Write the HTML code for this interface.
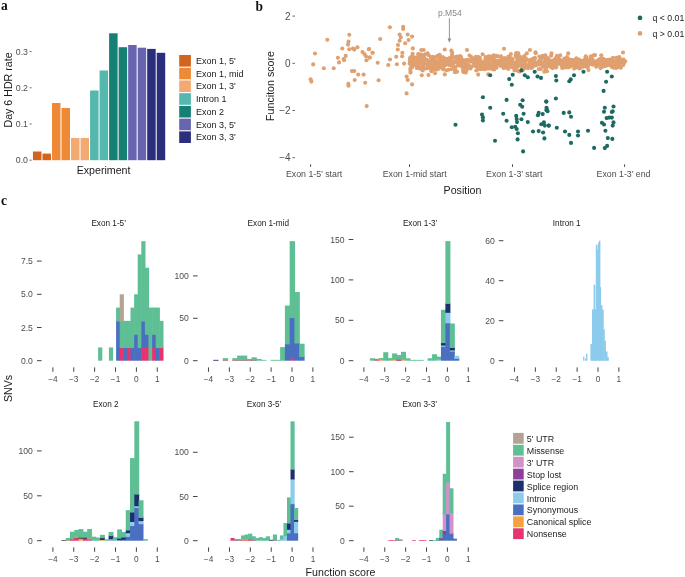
<!DOCTYPE html>
<html><head><meta charset="utf-8"><style>
html,body{margin:0;padding:0;background:#fff;}
svg{display:block;font-family:"Liberation Sans", sans-serif;filter:blur(0.3px);}
</style></head><body>
<svg width="685" height="577" viewBox="0 0 685 577">
<rect width="685" height="577" fill="#ffffff"/>
<text transform="translate(1.0,9.6) scale(0.9,1)" font-size="15" font-weight="bold" font-family="Liberation Serif, serif" fill="#111">a</text>
<text transform="translate(255.4,10.6) scale(0.9,1)" font-size="15" font-weight="bold" font-family="Liberation Serif, serif" fill="#111">b</text>
<text transform="translate(0.9,205.4) scale(0.9,1)" font-size="15" font-weight="bold" font-family="Liberation Serif, serif" fill="#111">c</text>
<rect x="32.95" y="151.50" width="8.50" height="8.70" fill="#d3631d"/>
<rect x="42.47" y="153.60" width="8.50" height="6.60" fill="#d3631d"/>
<rect x="51.99" y="103.00" width="8.50" height="57.20" fill="#ee8a36"/>
<rect x="61.51" y="108.00" width="8.50" height="52.20" fill="#ee8a36"/>
<rect x="71.03" y="138.00" width="8.50" height="22.20" fill="#f3aa72"/>
<rect x="80.55" y="138.00" width="8.50" height="22.20" fill="#f3aa72"/>
<rect x="90.07" y="90.50" width="8.50" height="69.70" fill="#55b8ae"/>
<rect x="99.59" y="70.50" width="8.50" height="89.70" fill="#55b8ae"/>
<rect x="109.11" y="33.30" width="8.50" height="126.90" fill="#148174"/>
<rect x="118.63" y="47.20" width="8.50" height="113.00" fill="#148174"/>
<rect x="128.15" y="45.00" width="8.50" height="115.20" fill="#6865b0"/>
<rect x="137.67" y="47.70" width="8.50" height="112.50" fill="#6865b0"/>
<rect x="147.19" y="48.90" width="8.50" height="111.30" fill="#2a2e7c"/>
<rect x="156.71" y="52.80" width="8.50" height="107.40" fill="#2a2e7c"/>
<text x="28.00" y="163.30" font-size="8.8" fill="#4d4d4d" text-anchor="end" >0.0</text>
<line x1="29.60" y1="160.20" x2="31.60" y2="160.20" stroke="#444444" stroke-width="0.8"/>
<text x="28.00" y="127.10" font-size="8.8" fill="#4d4d4d" text-anchor="end" >0.1</text>
<line x1="29.60" y1="124.00" x2="31.60" y2="124.00" stroke="#444444" stroke-width="0.8"/>
<text x="28.00" y="90.90" font-size="8.8" fill="#4d4d4d" text-anchor="end" >0.2</text>
<line x1="29.60" y1="87.80" x2="31.60" y2="87.80" stroke="#444444" stroke-width="0.8"/>
<text x="28.00" y="54.70" font-size="8.8" fill="#4d4d4d" text-anchor="end" >0.3</text>
<line x1="29.60" y1="51.60" x2="31.60" y2="51.60" stroke="#444444" stroke-width="0.8"/>
<text transform="translate(12.2,90) rotate(-90)" font-size="10.65" fill="#1a1a1a" text-anchor="middle">Day 6 HDR rate</text>
<text x="103.60" y="173.60" font-size="10.65" fill="#1a1a1a" text-anchor="middle" >Experiment</text>
<rect x="179.20" y="55.00" width="11.70" height="11.60" fill="#d3631d"/>
<text x="196.00" y="63.95" font-size="9" fill="#1a1a1a" text-anchor="start" >Exon 1, 5'</text>
<rect x="179.20" y="67.73" width="11.70" height="11.60" fill="#ee8a36"/>
<text x="196.00" y="76.68" font-size="9" fill="#1a1a1a" text-anchor="start" >Exon 1, mid</text>
<rect x="179.20" y="80.46" width="11.70" height="11.60" fill="#f3aa72"/>
<text x="196.00" y="89.41" font-size="9" fill="#1a1a1a" text-anchor="start" >Exon 1, 3'</text>
<rect x="179.20" y="93.19" width="11.70" height="11.60" fill="#55b8ae"/>
<text x="196.00" y="102.14" font-size="9" fill="#1a1a1a" text-anchor="start" >Intron 1</text>
<rect x="179.20" y="105.92" width="11.70" height="11.60" fill="#148174"/>
<text x="196.00" y="114.87" font-size="9" fill="#1a1a1a" text-anchor="start" >Exon 2</text>
<rect x="179.20" y="118.65" width="11.70" height="11.60" fill="#6865b0"/>
<text x="196.00" y="127.60" font-size="9" fill="#1a1a1a" text-anchor="start" >Exon 3, 5'</text>
<rect x="179.20" y="131.38" width="11.70" height="11.60" fill="#2a2e7c"/>
<text x="196.00" y="140.33" font-size="9" fill="#1a1a1a" text-anchor="start" >Exon 3, 3'</text>
<text x="290.60" y="19.60" font-size="10.0" fill="#4d4d4d" text-anchor="end" >2</text>
<line x1="292.40" y1="16.10" x2="295.00" y2="16.10" stroke="#444444" stroke-width="0.8"/>
<text x="290.60" y="66.80" font-size="10.0" fill="#4d4d4d" text-anchor="end" >0</text>
<line x1="292.40" y1="63.30" x2="295.00" y2="63.30" stroke="#444444" stroke-width="0.8"/>
<text x="290.60" y="114.00" font-size="10.0" fill="#4d4d4d" text-anchor="end" >−2</text>
<line x1="292.40" y1="110.50" x2="295.00" y2="110.50" stroke="#444444" stroke-width="0.8"/>
<text x="290.60" y="161.20" font-size="10.0" fill="#4d4d4d" text-anchor="end" >−4</text>
<line x1="292.40" y1="157.70" x2="295.00" y2="157.70" stroke="#444444" stroke-width="0.8"/>
<line x1="310.60" y1="164.20" x2="310.60" y2="167.00" stroke="#444444" stroke-width="0.9"/>
<text x="314.10" y="176.60" font-size="8.8" fill="#4d4d4d" text-anchor="middle" >Exon 1-5’ start</text>
<line x1="409.50" y1="164.20" x2="409.50" y2="167.00" stroke="#444444" stroke-width="0.9"/>
<text x="414.70" y="176.60" font-size="8.8" fill="#4d4d4d" text-anchor="middle" >Exon 1-mid start</text>
<line x1="512.50" y1="164.20" x2="512.50" y2="167.00" stroke="#444444" stroke-width="0.9"/>
<text x="514.30" y="176.60" font-size="8.8" fill="#4d4d4d" text-anchor="middle" >Exon 1-3’ start</text>
<line x1="624.60" y1="164.20" x2="624.60" y2="167.00" stroke="#444444" stroke-width="0.9"/>
<text x="623.50" y="176.60" font-size="8.8" fill="#4d4d4d" text-anchor="middle" >Exon 1-3’ end</text>
<text x="462.50" y="193.50" font-size="10.65" fill="#1a1a1a" text-anchor="middle" >Position</text>
<text transform="translate(274.2,86) rotate(-90)" font-size="10.65" fill="#1a1a1a" text-anchor="middle">Funciton score</text>
<circle cx="349.3" cy="34.8" r="2.05" fill="#e0a06f"/>
<circle cx="327.3" cy="39.8" r="2.05" fill="#e0a06f"/>
<circle cx="348.5" cy="41.5" r="2.05" fill="#e0a06f"/>
<circle cx="348.0" cy="44.6" r="2.05" fill="#e0a06f"/>
<circle cx="315.0" cy="53.5" r="2.05" fill="#e0a06f"/>
<circle cx="342.3" cy="48.5" r="2.05" fill="#e0a06f"/>
<circle cx="349.3" cy="49.3" r="2.05" fill="#e0a06f"/>
<circle cx="353.0" cy="48.5" r="2.05" fill="#e0a06f"/>
<circle cx="354.3" cy="49.6" r="2.05" fill="#e0a06f"/>
<circle cx="357.4" cy="47.3" r="2.05" fill="#e0a06f"/>
<circle cx="368.8" cy="49.2" r="2.05" fill="#e0a06f"/>
<circle cx="372.5" cy="52.7" r="2.05" fill="#e0a06f"/>
<circle cx="362.5" cy="52.0" r="2.05" fill="#e0a06f"/>
<circle cx="364.4" cy="54.0" r="2.05" fill="#e0a06f"/>
<circle cx="366.0" cy="56.2" r="2.05" fill="#e0a06f"/>
<circle cx="369.5" cy="57.7" r="2.05" fill="#e0a06f"/>
<circle cx="366.4" cy="60.2" r="2.05" fill="#e0a06f"/>
<circle cx="337.9" cy="57.7" r="2.05" fill="#e0a06f"/>
<circle cx="345.7" cy="55.9" r="2.05" fill="#e0a06f"/>
<circle cx="343.7" cy="59.0" r="2.05" fill="#e0a06f"/>
<circle cx="344.1" cy="60.2" r="2.05" fill="#e0a06f"/>
<circle cx="339.0" cy="62.4" r="2.05" fill="#e0a06f"/>
<circle cx="313.2" cy="64.4" r="2.05" fill="#e0a06f"/>
<circle cx="323.8" cy="68.3" r="2.05" fill="#e0a06f"/>
<circle cx="333.7" cy="68.3" r="2.05" fill="#e0a06f"/>
<circle cx="351.9" cy="71.1" r="2.05" fill="#e0a06f"/>
<circle cx="354.3" cy="71.1" r="2.05" fill="#e0a06f"/>
<circle cx="358.2" cy="74.6" r="2.05" fill="#e0a06f"/>
<circle cx="363.6" cy="74.6" r="2.05" fill="#e0a06f"/>
<circle cx="354.7" cy="80.0" r="2.05" fill="#e0a06f"/>
<circle cx="365.2" cy="82.8" r="2.05" fill="#e0a06f"/>
<circle cx="348.3" cy="83.9" r="2.05" fill="#e0a06f"/>
<circle cx="348.5" cy="85.8" r="2.05" fill="#e0a06f"/>
<circle cx="310.6" cy="79.3" r="2.05" fill="#e0a06f"/>
<circle cx="311.4" cy="81.6" r="2.05" fill="#e0a06f"/>
<circle cx="366.7" cy="106.1" r="2.05" fill="#e0a06f"/>
<circle cx="389.9" cy="27.2" r="2.05" fill="#e0a06f"/>
<circle cx="403.2" cy="26.7" r="2.05" fill="#e0a06f"/>
<circle cx="403.2" cy="29.0" r="2.05" fill="#e0a06f"/>
<circle cx="380.2" cy="39.0" r="2.05" fill="#e0a06f"/>
<circle cx="399.6" cy="34.5" r="2.05" fill="#e0a06f"/>
<circle cx="400.8" cy="37.3" r="2.05" fill="#e0a06f"/>
<circle cx="399.6" cy="40.8" r="2.05" fill="#e0a06f"/>
<circle cx="407.7" cy="34.5" r="2.05" fill="#e0a06f"/>
<circle cx="412.1" cy="36.6" r="2.05" fill="#e0a06f"/>
<circle cx="408.6" cy="40.1" r="2.05" fill="#e0a06f"/>
<circle cx="405.2" cy="43.3" r="2.05" fill="#e0a06f"/>
<circle cx="398.0" cy="45.0" r="2.05" fill="#e0a06f"/>
<circle cx="397.8" cy="49.5" r="2.05" fill="#e0a06f"/>
<circle cx="402.4" cy="52.8" r="2.05" fill="#e0a06f"/>
<circle cx="402.1" cy="56.3" r="2.05" fill="#e0a06f"/>
<circle cx="396.2" cy="56.7" r="2.05" fill="#e0a06f"/>
<circle cx="369.2" cy="49.1" r="2.05" fill="#e0a06f"/>
<circle cx="372.6" cy="52.8" r="2.05" fill="#e0a06f"/>
<circle cx="369.8" cy="57.4" r="2.05" fill="#e0a06f"/>
<circle cx="390.0" cy="59.5" r="2.05" fill="#e0a06f"/>
<circle cx="377.7" cy="62.7" r="2.05" fill="#e0a06f"/>
<circle cx="388.3" cy="65.0" r="2.05" fill="#e0a06f"/>
<circle cx="396.9" cy="64.3" r="2.05" fill="#e0a06f"/>
<circle cx="404.1" cy="63.6" r="2.05" fill="#e0a06f"/>
<circle cx="412.8" cy="48.4" r="2.05" fill="#e0a06f"/>
<circle cx="378.6" cy="80.3" r="2.05" fill="#e0a06f"/>
<circle cx="406.6" cy="76.5" r="2.05" fill="#e0a06f"/>
<circle cx="407.7" cy="79.9" r="2.05" fill="#e0a06f"/>
<circle cx="412.1" cy="84.4" r="2.05" fill="#e0a06f"/>
<circle cx="406.6" cy="93.4" r="2.05" fill="#e0a06f"/>
<circle cx="551.5" cy="53.4" r="2.05" fill="#e0a06f"/>
<circle cx="568.2" cy="53.4" r="2.05" fill="#e0a06f"/>
<circle cx="595.0" cy="55.1" r="2.05" fill="#e0a06f"/>
<circle cx="623.0" cy="52.5" r="2.05" fill="#e0a06f"/>
<circle cx="444.8" cy="49.5" r="2.05" fill="#e0a06f"/>
<circle cx="504.0" cy="48.7" r="2.05" fill="#e0a06f"/>
<circle cx="410.5" cy="72.6" r="2.05" fill="#e0a06f"/>
<circle cx="435.0" cy="73.2" r="2.05" fill="#e0a06f"/>
<circle cx="444.8" cy="74.4" r="2.05" fill="#e0a06f"/>
<circle cx="479.4" cy="61.8" r="2.05" fill="#e0a06f"/>
<circle cx="525.3" cy="61.7" r="2.05" fill="#e0a06f"/>
<circle cx="422.0" cy="67.1" r="2.05" fill="#e0a06f"/>
<circle cx="424.6" cy="63.6" r="2.05" fill="#e0a06f"/>
<circle cx="501.2" cy="64.6" r="2.05" fill="#e0a06f"/>
<circle cx="545.0" cy="65.5" r="2.05" fill="#e0a06f"/>
<circle cx="534.2" cy="63.9" r="2.05" fill="#e0a06f"/>
<circle cx="594.9" cy="62.9" r="2.05" fill="#e0a06f"/>
<circle cx="440.7" cy="59.8" r="2.05" fill="#e0a06f"/>
<circle cx="448.5" cy="69.8" r="2.05" fill="#e0a06f"/>
<circle cx="547.5" cy="61.7" r="2.05" fill="#e0a06f"/>
<circle cx="422.4" cy="62.1" r="2.05" fill="#e0a06f"/>
<circle cx="556.5" cy="61.2" r="2.05" fill="#e0a06f"/>
<circle cx="507.4" cy="67.2" r="2.05" fill="#e0a06f"/>
<circle cx="581.1" cy="63.1" r="2.05" fill="#e0a06f"/>
<circle cx="522.9" cy="70.1" r="2.05" fill="#e0a06f"/>
<circle cx="567.1" cy="64.5" r="2.05" fill="#e0a06f"/>
<circle cx="499.8" cy="62.5" r="2.05" fill="#e0a06f"/>
<circle cx="442.3" cy="68.7" r="2.05" fill="#e0a06f"/>
<circle cx="574.6" cy="64.1" r="2.05" fill="#e0a06f"/>
<circle cx="598.6" cy="61.7" r="2.05" fill="#e0a06f"/>
<circle cx="534.8" cy="58.5" r="2.05" fill="#e0a06f"/>
<circle cx="590.9" cy="56.2" r="2.05" fill="#e0a06f"/>
<circle cx="422.6" cy="63.6" r="2.05" fill="#e0a06f"/>
<circle cx="549.3" cy="64.8" r="2.05" fill="#e0a06f"/>
<circle cx="492.8" cy="60.0" r="2.05" fill="#e0a06f"/>
<circle cx="414.4" cy="63.6" r="2.05" fill="#e0a06f"/>
<circle cx="422.2" cy="64.4" r="2.05" fill="#e0a06f"/>
<circle cx="437.4" cy="55.9" r="2.05" fill="#e0a06f"/>
<circle cx="426.9" cy="68.1" r="2.05" fill="#e0a06f"/>
<circle cx="528.2" cy="67.5" r="2.05" fill="#e0a06f"/>
<circle cx="469.6" cy="55.5" r="2.05" fill="#e0a06f"/>
<circle cx="487.0" cy="66.1" r="2.05" fill="#e0a06f"/>
<circle cx="447.6" cy="62.0" r="2.05" fill="#e0a06f"/>
<circle cx="459.9" cy="60.0" r="2.05" fill="#e0a06f"/>
<circle cx="410.4" cy="60.6" r="2.05" fill="#e0a06f"/>
<circle cx="489.3" cy="68.3" r="2.05" fill="#e0a06f"/>
<circle cx="520.8" cy="61.2" r="2.05" fill="#e0a06f"/>
<circle cx="555.6" cy="67.4" r="2.05" fill="#e0a06f"/>
<circle cx="598.4" cy="60.1" r="2.05" fill="#e0a06f"/>
<circle cx="494.3" cy="67.0" r="2.05" fill="#e0a06f"/>
<circle cx="422.9" cy="66.3" r="2.05" fill="#e0a06f"/>
<circle cx="454.6" cy="61.9" r="2.05" fill="#e0a06f"/>
<circle cx="409.6" cy="63.7" r="2.05" fill="#e0a06f"/>
<circle cx="431.4" cy="71.2" r="2.05" fill="#e0a06f"/>
<circle cx="542.1" cy="64.0" r="2.05" fill="#e0a06f"/>
<circle cx="464.0" cy="61.3" r="2.05" fill="#e0a06f"/>
<circle cx="592.9" cy="64.8" r="2.05" fill="#e0a06f"/>
<circle cx="510.2" cy="64.2" r="2.05" fill="#e0a06f"/>
<circle cx="483.5" cy="63.6" r="2.05" fill="#e0a06f"/>
<circle cx="588.5" cy="70.1" r="2.05" fill="#e0a06f"/>
<circle cx="523.6" cy="64.1" r="2.05" fill="#e0a06f"/>
<circle cx="526.8" cy="53.4" r="2.05" fill="#e0a06f"/>
<circle cx="596.0" cy="61.6" r="2.05" fill="#e0a06f"/>
<circle cx="465.9" cy="66.1" r="2.05" fill="#e0a06f"/>
<circle cx="524.5" cy="68.0" r="2.05" fill="#e0a06f"/>
<circle cx="480.7" cy="66.9" r="2.05" fill="#e0a06f"/>
<circle cx="593.7" cy="55.3" r="2.05" fill="#e0a06f"/>
<circle cx="586.3" cy="63.5" r="2.05" fill="#e0a06f"/>
<circle cx="486.3" cy="67.3" r="2.05" fill="#e0a06f"/>
<circle cx="415.5" cy="62.1" r="2.05" fill="#e0a06f"/>
<circle cx="616.1" cy="67.2" r="2.05" fill="#e0a06f"/>
<circle cx="611.9" cy="67.0" r="2.05" fill="#e0a06f"/>
<circle cx="457.1" cy="61.5" r="2.05" fill="#e0a06f"/>
<circle cx="452.0" cy="56.3" r="2.05" fill="#e0a06f"/>
<circle cx="591.0" cy="58.6" r="2.05" fill="#e0a06f"/>
<circle cx="550.5" cy="67.0" r="2.05" fill="#e0a06f"/>
<circle cx="606.0" cy="65.1" r="2.05" fill="#e0a06f"/>
<circle cx="571.5" cy="65.3" r="2.05" fill="#e0a06f"/>
<circle cx="481.3" cy="68.9" r="2.05" fill="#e0a06f"/>
<circle cx="619.4" cy="57.8" r="2.05" fill="#e0a06f"/>
<circle cx="566.1" cy="67.3" r="2.05" fill="#e0a06f"/>
<circle cx="436.9" cy="69.0" r="2.05" fill="#e0a06f"/>
<circle cx="441.1" cy="58.3" r="2.05" fill="#e0a06f"/>
<circle cx="621.2" cy="61.1" r="2.05" fill="#e0a06f"/>
<circle cx="437.8" cy="66.9" r="2.05" fill="#e0a06f"/>
<circle cx="619.2" cy="57.0" r="2.05" fill="#e0a06f"/>
<circle cx="503.2" cy="60.5" r="2.05" fill="#e0a06f"/>
<circle cx="587.9" cy="63.0" r="2.05" fill="#e0a06f"/>
<circle cx="461.5" cy="66.0" r="2.05" fill="#e0a06f"/>
<circle cx="465.5" cy="68.6" r="2.05" fill="#e0a06f"/>
<circle cx="485.9" cy="68.9" r="2.05" fill="#e0a06f"/>
<circle cx="535.5" cy="52.2" r="2.05" fill="#e0a06f"/>
<circle cx="517.9" cy="66.6" r="2.05" fill="#e0a06f"/>
<circle cx="522.6" cy="60.7" r="2.05" fill="#e0a06f"/>
<circle cx="410.3" cy="63.6" r="2.05" fill="#e0a06f"/>
<circle cx="446.7" cy="61.8" r="2.05" fill="#e0a06f"/>
<circle cx="479.9" cy="57.8" r="2.05" fill="#e0a06f"/>
<circle cx="529.5" cy="66.3" r="2.05" fill="#e0a06f"/>
<circle cx="463.2" cy="65.8" r="2.05" fill="#e0a06f"/>
<circle cx="576.3" cy="58.2" r="2.05" fill="#e0a06f"/>
<circle cx="606.6" cy="61.3" r="2.05" fill="#e0a06f"/>
<circle cx="541.8" cy="57.7" r="2.05" fill="#e0a06f"/>
<circle cx="507.2" cy="62.3" r="2.05" fill="#e0a06f"/>
<circle cx="512.8" cy="59.1" r="2.05" fill="#e0a06f"/>
<circle cx="613.0" cy="57.8" r="2.05" fill="#e0a06f"/>
<circle cx="530.4" cy="64.4" r="2.05" fill="#e0a06f"/>
<circle cx="435.8" cy="60.6" r="2.05" fill="#e0a06f"/>
<circle cx="425.2" cy="68.4" r="2.05" fill="#e0a06f"/>
<circle cx="578.8" cy="66.2" r="2.05" fill="#e0a06f"/>
<circle cx="442.9" cy="61.3" r="2.05" fill="#e0a06f"/>
<circle cx="600.2" cy="60.9" r="2.05" fill="#e0a06f"/>
<circle cx="456.9" cy="56.6" r="2.05" fill="#e0a06f"/>
<circle cx="623.3" cy="64.9" r="2.05" fill="#e0a06f"/>
<circle cx="444.4" cy="58.8" r="2.05" fill="#e0a06f"/>
<circle cx="451.8" cy="62.2" r="2.05" fill="#e0a06f"/>
<circle cx="565.5" cy="59.7" r="2.05" fill="#e0a06f"/>
<circle cx="413.4" cy="60.9" r="2.05" fill="#e0a06f"/>
<circle cx="544.3" cy="71.7" r="2.05" fill="#e0a06f"/>
<circle cx="579.8" cy="68.5" r="2.05" fill="#e0a06f"/>
<circle cx="432.1" cy="69.8" r="2.05" fill="#e0a06f"/>
<circle cx="467.9" cy="64.4" r="2.05" fill="#e0a06f"/>
<circle cx="500.7" cy="64.7" r="2.05" fill="#e0a06f"/>
<circle cx="441.8" cy="57.8" r="2.05" fill="#e0a06f"/>
<circle cx="532.7" cy="63.8" r="2.05" fill="#e0a06f"/>
<circle cx="558.2" cy="63.5" r="2.05" fill="#e0a06f"/>
<circle cx="425.1" cy="54.2" r="2.05" fill="#e0a06f"/>
<circle cx="427.6" cy="53.2" r="2.05" fill="#e0a06f"/>
<circle cx="423.9" cy="56.4" r="2.05" fill="#e0a06f"/>
<circle cx="529.0" cy="64.3" r="2.05" fill="#e0a06f"/>
<circle cx="467.4" cy="59.8" r="2.05" fill="#e0a06f"/>
<circle cx="433.1" cy="62.0" r="2.05" fill="#e0a06f"/>
<circle cx="420.4" cy="61.1" r="2.05" fill="#e0a06f"/>
<circle cx="573.6" cy="65.4" r="2.05" fill="#e0a06f"/>
<circle cx="517.5" cy="62.4" r="2.05" fill="#e0a06f"/>
<circle cx="463.6" cy="63.3" r="2.05" fill="#e0a06f"/>
<circle cx="567.8" cy="64.2" r="2.05" fill="#e0a06f"/>
<circle cx="611.4" cy="65.9" r="2.05" fill="#e0a06f"/>
<circle cx="586.4" cy="57.4" r="2.05" fill="#e0a06f"/>
<circle cx="494.4" cy="63.0" r="2.05" fill="#e0a06f"/>
<circle cx="558.1" cy="57.6" r="2.05" fill="#e0a06f"/>
<circle cx="562.2" cy="67.9" r="2.05" fill="#e0a06f"/>
<circle cx="496.9" cy="64.6" r="2.05" fill="#e0a06f"/>
<circle cx="424.8" cy="63.3" r="2.05" fill="#e0a06f"/>
<circle cx="464.7" cy="69.3" r="2.05" fill="#e0a06f"/>
<circle cx="597.5" cy="65.8" r="2.05" fill="#e0a06f"/>
<circle cx="470.4" cy="61.5" r="2.05" fill="#e0a06f"/>
<circle cx="443.5" cy="67.1" r="2.05" fill="#e0a06f"/>
<circle cx="466.4" cy="70.6" r="2.05" fill="#e0a06f"/>
<circle cx="462.3" cy="61.3" r="2.05" fill="#e0a06f"/>
<circle cx="476.4" cy="66.5" r="2.05" fill="#e0a06f"/>
<circle cx="512.0" cy="62.8" r="2.05" fill="#e0a06f"/>
<circle cx="452.9" cy="65.8" r="2.05" fill="#e0a06f"/>
<circle cx="428.9" cy="62.7" r="2.05" fill="#e0a06f"/>
<circle cx="418.5" cy="61.4" r="2.05" fill="#e0a06f"/>
<circle cx="536.0" cy="65.2" r="2.05" fill="#e0a06f"/>
<circle cx="571.6" cy="61.6" r="2.05" fill="#e0a06f"/>
<circle cx="493.6" cy="55.2" r="2.05" fill="#e0a06f"/>
<circle cx="622.2" cy="62.5" r="2.05" fill="#e0a06f"/>
<circle cx="419.0" cy="56.3" r="2.05" fill="#e0a06f"/>
<circle cx="602.2" cy="62.5" r="2.05" fill="#e0a06f"/>
<circle cx="439.6" cy="54.9" r="2.05" fill="#e0a06f"/>
<circle cx="518.4" cy="65.0" r="2.05" fill="#e0a06f"/>
<circle cx="535.7" cy="53.3" r="2.05" fill="#e0a06f"/>
<circle cx="557.0" cy="63.0" r="2.05" fill="#e0a06f"/>
<circle cx="438.2" cy="63.6" r="2.05" fill="#e0a06f"/>
<circle cx="432.2" cy="56.9" r="2.05" fill="#e0a06f"/>
<circle cx="544.8" cy="61.2" r="2.05" fill="#e0a06f"/>
<circle cx="515.2" cy="64.5" r="2.05" fill="#e0a06f"/>
<circle cx="518.1" cy="57.2" r="2.05" fill="#e0a06f"/>
<circle cx="551.9" cy="62.7" r="2.05" fill="#e0a06f"/>
<circle cx="425.6" cy="59.2" r="2.05" fill="#e0a06f"/>
<circle cx="567.0" cy="62.4" r="2.05" fill="#e0a06f"/>
<circle cx="516.2" cy="53.1" r="2.05" fill="#e0a06f"/>
<circle cx="513.0" cy="63.3" r="2.05" fill="#e0a06f"/>
<circle cx="548.3" cy="58.4" r="2.05" fill="#e0a06f"/>
<circle cx="441.3" cy="62.4" r="2.05" fill="#e0a06f"/>
<circle cx="532.1" cy="59.9" r="2.05" fill="#e0a06f"/>
<circle cx="422.6" cy="59.4" r="2.05" fill="#e0a06f"/>
<circle cx="555.5" cy="58.5" r="2.05" fill="#e0a06f"/>
<circle cx="521.1" cy="61.1" r="2.05" fill="#e0a06f"/>
<circle cx="602.5" cy="63.3" r="2.05" fill="#e0a06f"/>
<circle cx="620.8" cy="67.7" r="2.05" fill="#e0a06f"/>
<circle cx="586.6" cy="63.6" r="2.05" fill="#e0a06f"/>
<circle cx="506.6" cy="65.0" r="2.05" fill="#e0a06f"/>
<circle cx="455.0" cy="72.2" r="2.05" fill="#e0a06f"/>
<circle cx="440.1" cy="64.7" r="2.05" fill="#e0a06f"/>
<circle cx="586.7" cy="62.5" r="2.05" fill="#e0a06f"/>
<circle cx="601.1" cy="63.7" r="2.05" fill="#e0a06f"/>
<circle cx="514.5" cy="70.4" r="2.05" fill="#e0a06f"/>
<circle cx="410.3" cy="58.9" r="2.05" fill="#e0a06f"/>
<circle cx="439.9" cy="63.7" r="2.05" fill="#e0a06f"/>
<circle cx="477.8" cy="69.2" r="2.05" fill="#e0a06f"/>
<circle cx="590.7" cy="63.1" r="2.05" fill="#e0a06f"/>
<circle cx="609.6" cy="64.9" r="2.05" fill="#e0a06f"/>
<circle cx="489.9" cy="60.9" r="2.05" fill="#e0a06f"/>
<circle cx="625.2" cy="61.3" r="2.05" fill="#e0a06f"/>
<circle cx="468.9" cy="65.9" r="2.05" fill="#e0a06f"/>
<circle cx="431.5" cy="60.3" r="2.05" fill="#e0a06f"/>
<circle cx="463.4" cy="71.9" r="2.05" fill="#e0a06f"/>
<circle cx="519.9" cy="56.6" r="2.05" fill="#e0a06f"/>
<circle cx="600.5" cy="68.1" r="2.05" fill="#e0a06f"/>
<circle cx="545.8" cy="69.1" r="2.05" fill="#e0a06f"/>
<circle cx="564.9" cy="61.5" r="2.05" fill="#e0a06f"/>
<circle cx="567.7" cy="63.0" r="2.05" fill="#e0a06f"/>
<circle cx="471.3" cy="57.0" r="2.05" fill="#e0a06f"/>
<circle cx="609.7" cy="60.6" r="2.05" fill="#e0a06f"/>
<circle cx="473.8" cy="63.3" r="2.05" fill="#e0a06f"/>
<circle cx="620.4" cy="61.8" r="2.05" fill="#e0a06f"/>
<circle cx="529.9" cy="60.4" r="2.05" fill="#e0a06f"/>
<circle cx="445.6" cy="65.0" r="2.05" fill="#e0a06f"/>
<circle cx="516.9" cy="70.3" r="2.05" fill="#e0a06f"/>
<circle cx="605.3" cy="60.7" r="2.05" fill="#e0a06f"/>
<circle cx="451.1" cy="63.3" r="2.05" fill="#e0a06f"/>
<circle cx="483.4" cy="62.9" r="2.05" fill="#e0a06f"/>
<circle cx="532.5" cy="67.1" r="2.05" fill="#e0a06f"/>
<circle cx="571.4" cy="59.7" r="2.05" fill="#e0a06f"/>
<circle cx="490.9" cy="65.1" r="2.05" fill="#e0a06f"/>
<circle cx="422.9" cy="64.8" r="2.05" fill="#e0a06f"/>
<circle cx="518.2" cy="62.4" r="2.05" fill="#e0a06f"/>
<circle cx="595.9" cy="62.7" r="2.05" fill="#e0a06f"/>
<circle cx="495.8" cy="65.5" r="2.05" fill="#e0a06f"/>
<circle cx="615.6" cy="63.5" r="2.05" fill="#e0a06f"/>
<circle cx="416.5" cy="61.8" r="2.05" fill="#e0a06f"/>
<circle cx="603.0" cy="63.0" r="2.05" fill="#e0a06f"/>
<circle cx="494.1" cy="62.7" r="2.05" fill="#e0a06f"/>
<circle cx="587.8" cy="66.5" r="2.05" fill="#e0a06f"/>
<circle cx="433.1" cy="62.0" r="2.05" fill="#e0a06f"/>
<circle cx="522.3" cy="68.1" r="2.05" fill="#e0a06f"/>
<circle cx="549.3" cy="61.0" r="2.05" fill="#e0a06f"/>
<circle cx="508.3" cy="68.9" r="2.05" fill="#e0a06f"/>
<circle cx="459.7" cy="65.4" r="2.05" fill="#e0a06f"/>
<circle cx="548.9" cy="64.6" r="2.05" fill="#e0a06f"/>
<circle cx="546.9" cy="64.7" r="2.05" fill="#e0a06f"/>
<circle cx="433.7" cy="57.0" r="2.05" fill="#e0a06f"/>
<circle cx="493.3" cy="62.0" r="2.05" fill="#e0a06f"/>
<circle cx="539.3" cy="61.7" r="2.05" fill="#e0a06f"/>
<circle cx="616.6" cy="65.9" r="2.05" fill="#e0a06f"/>
<circle cx="600.4" cy="63.2" r="2.05" fill="#e0a06f"/>
<circle cx="617.0" cy="65.1" r="2.05" fill="#e0a06f"/>
<circle cx="475.9" cy="56.8" r="2.05" fill="#e0a06f"/>
<circle cx="500.2" cy="62.8" r="2.05" fill="#e0a06f"/>
<circle cx="553.6" cy="63.1" r="2.05" fill="#e0a06f"/>
<circle cx="482.5" cy="63.7" r="2.05" fill="#e0a06f"/>
<circle cx="556.9" cy="64.4" r="2.05" fill="#e0a06f"/>
<circle cx="518.6" cy="57.2" r="2.05" fill="#e0a06f"/>
<circle cx="619.0" cy="63.9" r="2.05" fill="#e0a06f"/>
<circle cx="457.3" cy="60.0" r="2.05" fill="#e0a06f"/>
<circle cx="473.2" cy="58.6" r="2.05" fill="#e0a06f"/>
<circle cx="457.7" cy="62.7" r="2.05" fill="#e0a06f"/>
<circle cx="553.2" cy="66.0" r="2.05" fill="#e0a06f"/>
<circle cx="455.5" cy="67.8" r="2.05" fill="#e0a06f"/>
<circle cx="440.2" cy="66.5" r="2.05" fill="#e0a06f"/>
<circle cx="603.5" cy="64.7" r="2.05" fill="#e0a06f"/>
<circle cx="567.8" cy="67.0" r="2.05" fill="#e0a06f"/>
<circle cx="449.6" cy="60.1" r="2.05" fill="#e0a06f"/>
<circle cx="570.7" cy="61.4" r="2.05" fill="#e0a06f"/>
<circle cx="490.3" cy="59.5" r="2.05" fill="#e0a06f"/>
<circle cx="446.1" cy="61.9" r="2.05" fill="#e0a06f"/>
<circle cx="615.9" cy="65.5" r="2.05" fill="#e0a06f"/>
<circle cx="617.8" cy="60.0" r="2.05" fill="#e0a06f"/>
<circle cx="587.1" cy="67.3" r="2.05" fill="#e0a06f"/>
<circle cx="420.1" cy="55.6" r="2.05" fill="#e0a06f"/>
<circle cx="451.2" cy="69.3" r="2.05" fill="#e0a06f"/>
<circle cx="603.3" cy="58.7" r="2.05" fill="#e0a06f"/>
<circle cx="575.1" cy="65.9" r="2.05" fill="#e0a06f"/>
<circle cx="417.0" cy="65.5" r="2.05" fill="#e0a06f"/>
<circle cx="570.9" cy="61.1" r="2.05" fill="#e0a06f"/>
<circle cx="482.7" cy="67.9" r="2.05" fill="#e0a06f"/>
<circle cx="466.1" cy="61.2" r="2.05" fill="#e0a06f"/>
<circle cx="477.9" cy="69.2" r="2.05" fill="#e0a06f"/>
<circle cx="607.5" cy="63.2" r="2.05" fill="#e0a06f"/>
<circle cx="613.2" cy="63.4" r="2.05" fill="#e0a06f"/>
<circle cx="616.2" cy="67.9" r="2.05" fill="#e0a06f"/>
<circle cx="493.0" cy="58.8" r="2.05" fill="#e0a06f"/>
<circle cx="610.0" cy="64.4" r="2.05" fill="#e0a06f"/>
<circle cx="582.9" cy="65.2" r="2.05" fill="#e0a06f"/>
<circle cx="540.7" cy="57.7" r="2.05" fill="#e0a06f"/>
<circle cx="478.5" cy="63.0" r="2.05" fill="#e0a06f"/>
<circle cx="452.1" cy="61.0" r="2.05" fill="#e0a06f"/>
<circle cx="462.9" cy="67.6" r="2.05" fill="#e0a06f"/>
<circle cx="479.9" cy="64.4" r="2.05" fill="#e0a06f"/>
<circle cx="600.3" cy="62.9" r="2.05" fill="#e0a06f"/>
<circle cx="430.3" cy="64.4" r="2.05" fill="#e0a06f"/>
<circle cx="562.8" cy="63.2" r="2.05" fill="#e0a06f"/>
<circle cx="543.5" cy="66.3" r="2.05" fill="#e0a06f"/>
<circle cx="571.1" cy="62.1" r="2.05" fill="#e0a06f"/>
<circle cx="591.1" cy="61.7" r="2.05" fill="#e0a06f"/>
<circle cx="531.9" cy="62.7" r="2.05" fill="#e0a06f"/>
<circle cx="462.9" cy="60.0" r="2.05" fill="#e0a06f"/>
<circle cx="442.6" cy="57.3" r="2.05" fill="#e0a06f"/>
<circle cx="495.1" cy="60.2" r="2.05" fill="#e0a06f"/>
<circle cx="519.1" cy="64.7" r="2.05" fill="#e0a06f"/>
<circle cx="623.5" cy="59.5" r="2.05" fill="#e0a06f"/>
<circle cx="512.0" cy="67.1" r="2.05" fill="#e0a06f"/>
<circle cx="418.2" cy="54.3" r="2.05" fill="#e0a06f"/>
<circle cx="435.3" cy="68.1" r="2.05" fill="#e0a06f"/>
<circle cx="610.4" cy="62.4" r="2.05" fill="#e0a06f"/>
<circle cx="596.6" cy="62.7" r="2.05" fill="#e0a06f"/>
<circle cx="613.8" cy="67.8" r="2.05" fill="#e0a06f"/>
<circle cx="538.3" cy="63.5" r="2.05" fill="#e0a06f"/>
<circle cx="440.0" cy="66.6" r="2.05" fill="#e0a06f"/>
<circle cx="464.6" cy="61.1" r="2.05" fill="#e0a06f"/>
<circle cx="412.0" cy="60.0" r="2.05" fill="#e0a06f"/>
<circle cx="556.0" cy="62.1" r="2.05" fill="#e0a06f"/>
<circle cx="581.3" cy="64.8" r="2.05" fill="#e0a06f"/>
<circle cx="423.2" cy="58.2" r="2.05" fill="#e0a06f"/>
<circle cx="547.6" cy="65.4" r="2.05" fill="#e0a06f"/>
<circle cx="444.9" cy="59.7" r="2.05" fill="#e0a06f"/>
<circle cx="475.9" cy="65.4" r="2.05" fill="#e0a06f"/>
<circle cx="477.0" cy="60.2" r="2.05" fill="#e0a06f"/>
<circle cx="596.2" cy="66.7" r="2.05" fill="#e0a06f"/>
<circle cx="488.1" cy="62.4" r="2.05" fill="#e0a06f"/>
<circle cx="410.8" cy="57.7" r="2.05" fill="#e0a06f"/>
<circle cx="501.0" cy="56.4" r="2.05" fill="#e0a06f"/>
<circle cx="509.1" cy="67.0" r="2.05" fill="#e0a06f"/>
<circle cx="412.7" cy="56.3" r="2.05" fill="#e0a06f"/>
<circle cx="428.7" cy="55.2" r="2.05" fill="#e0a06f"/>
<circle cx="489.6" cy="64.6" r="2.05" fill="#e0a06f"/>
<circle cx="522.1" cy="66.5" r="2.05" fill="#e0a06f"/>
<circle cx="433.0" cy="66.4" r="2.05" fill="#e0a06f"/>
<circle cx="452.1" cy="52.5" r="2.05" fill="#e0a06f"/>
<circle cx="613.2" cy="61.6" r="2.05" fill="#e0a06f"/>
<circle cx="609.6" cy="63.2" r="2.05" fill="#e0a06f"/>
<circle cx="604.8" cy="63.8" r="2.05" fill="#e0a06f"/>
<circle cx="579.2" cy="61.4" r="2.05" fill="#e0a06f"/>
<circle cx="496.9" cy="63.9" r="2.05" fill="#e0a06f"/>
<circle cx="456.6" cy="60.3" r="2.05" fill="#e0a06f"/>
<circle cx="521.4" cy="64.7" r="2.05" fill="#e0a06f"/>
<circle cx="566.1" cy="65.6" r="2.05" fill="#e0a06f"/>
<circle cx="418.4" cy="62.6" r="2.05" fill="#e0a06f"/>
<circle cx="590.6" cy="62.2" r="2.05" fill="#e0a06f"/>
<circle cx="539.0" cy="60.8" r="2.05" fill="#e0a06f"/>
<circle cx="500.2" cy="60.5" r="2.05" fill="#e0a06f"/>
<circle cx="501.5" cy="59.0" r="2.05" fill="#e0a06f"/>
<circle cx="414.5" cy="64.1" r="2.05" fill="#e0a06f"/>
<circle cx="515.2" cy="63.3" r="2.05" fill="#e0a06f"/>
<circle cx="508.5" cy="56.5" r="2.05" fill="#e0a06f"/>
<circle cx="511.7" cy="65.4" r="2.05" fill="#e0a06f"/>
<circle cx="429.3" cy="65.9" r="2.05" fill="#e0a06f"/>
<circle cx="519.7" cy="61.8" r="2.05" fill="#e0a06f"/>
<circle cx="567.9" cy="62.0" r="2.05" fill="#e0a06f"/>
<circle cx="520.0" cy="59.4" r="2.05" fill="#e0a06f"/>
<circle cx="614.9" cy="63.0" r="2.05" fill="#e0a06f"/>
<circle cx="594.6" cy="62.1" r="2.05" fill="#e0a06f"/>
<circle cx="451.3" cy="50.5" r="2.05" fill="#e0a06f"/>
<circle cx="515.7" cy="65.8" r="2.05" fill="#e0a06f"/>
<circle cx="579.8" cy="61.5" r="2.05" fill="#e0a06f"/>
<circle cx="423.7" cy="62.6" r="2.05" fill="#e0a06f"/>
<circle cx="603.2" cy="61.4" r="2.05" fill="#e0a06f"/>
<circle cx="585.7" cy="56.3" r="2.05" fill="#e0a06f"/>
<circle cx="454.5" cy="62.5" r="2.05" fill="#e0a06f"/>
<circle cx="518.8" cy="65.0" r="2.05" fill="#e0a06f"/>
<circle cx="444.3" cy="63.6" r="2.05" fill="#e0a06f"/>
<circle cx="556.3" cy="67.3" r="2.05" fill="#e0a06f"/>
<circle cx="434.4" cy="69.1" r="2.05" fill="#e0a06f"/>
<circle cx="546.9" cy="65.8" r="2.05" fill="#e0a06f"/>
<circle cx="534.8" cy="57.9" r="2.05" fill="#e0a06f"/>
<circle cx="432.1" cy="57.8" r="2.05" fill="#e0a06f"/>
<circle cx="581.8" cy="60.8" r="2.05" fill="#e0a06f"/>
<circle cx="623.4" cy="60.2" r="2.05" fill="#e0a06f"/>
<circle cx="505.0" cy="67.6" r="2.05" fill="#e0a06f"/>
<circle cx="570.1" cy="63.9" r="2.05" fill="#e0a06f"/>
<circle cx="547.6" cy="59.2" r="2.05" fill="#e0a06f"/>
<circle cx="536.0" cy="62.8" r="2.05" fill="#e0a06f"/>
<circle cx="416.8" cy="62.8" r="2.05" fill="#e0a06f"/>
<circle cx="542.6" cy="55.8" r="2.05" fill="#e0a06f"/>
<circle cx="438.0" cy="61.9" r="2.05" fill="#e0a06f"/>
<circle cx="550.6" cy="65.9" r="2.05" fill="#e0a06f"/>
<circle cx="432.5" cy="62.6" r="2.05" fill="#e0a06f"/>
<circle cx="457.9" cy="60.3" r="2.05" fill="#e0a06f"/>
<circle cx="544.3" cy="61.7" r="2.05" fill="#e0a06f"/>
<circle cx="438.6" cy="62.7" r="2.05" fill="#e0a06f"/>
<circle cx="430.2" cy="65.0" r="2.05" fill="#e0a06f"/>
<circle cx="597.7" cy="61.2" r="2.05" fill="#e0a06f"/>
<circle cx="412.0" cy="64.5" r="2.05" fill="#e0a06f"/>
<circle cx="531.0" cy="60.6" r="2.05" fill="#e0a06f"/>
<circle cx="611.9" cy="60.7" r="2.05" fill="#e0a06f"/>
<circle cx="463.2" cy="70.3" r="2.05" fill="#e0a06f"/>
<circle cx="497.2" cy="64.0" r="2.05" fill="#e0a06f"/>
<circle cx="422.1" cy="68.1" r="2.05" fill="#e0a06f"/>
<circle cx="612.7" cy="63.3" r="2.05" fill="#e0a06f"/>
<circle cx="452.6" cy="56.7" r="2.05" fill="#e0a06f"/>
<circle cx="585.2" cy="62.8" r="2.05" fill="#e0a06f"/>
<circle cx="476.3" cy="70.5" r="2.05" fill="#e0a06f"/>
<circle cx="578.6" cy="64.9" r="2.05" fill="#e0a06f"/>
<circle cx="410.9" cy="62.4" r="2.05" fill="#e0a06f"/>
<circle cx="569.7" cy="59.5" r="2.05" fill="#e0a06f"/>
<circle cx="458.3" cy="62.8" r="2.05" fill="#e0a06f"/>
<circle cx="482.0" cy="63.8" r="2.05" fill="#e0a06f"/>
<circle cx="559.6" cy="62.3" r="2.05" fill="#e0a06f"/>
<circle cx="529.1" cy="60.2" r="2.05" fill="#e0a06f"/>
<circle cx="579.8" cy="62.6" r="2.05" fill="#e0a06f"/>
<circle cx="618.0" cy="66.9" r="2.05" fill="#e0a06f"/>
<circle cx="599.6" cy="62.9" r="2.05" fill="#e0a06f"/>
<circle cx="570.2" cy="66.6" r="2.05" fill="#e0a06f"/>
<circle cx="570.7" cy="65.0" r="2.05" fill="#e0a06f"/>
<circle cx="461.2" cy="58.7" r="2.05" fill="#e0a06f"/>
<circle cx="545.7" cy="58.2" r="2.05" fill="#e0a06f"/>
<circle cx="510.9" cy="54.1" r="2.05" fill="#e0a06f"/>
<circle cx="560.2" cy="55.4" r="2.05" fill="#e0a06f"/>
<circle cx="532.7" cy="65.0" r="2.05" fill="#e0a06f"/>
<circle cx="455.3" cy="70.6" r="2.05" fill="#e0a06f"/>
<circle cx="440.7" cy="67.0" r="2.05" fill="#e0a06f"/>
<circle cx="432.5" cy="60.4" r="2.05" fill="#e0a06f"/>
<circle cx="415.7" cy="64.6" r="2.05" fill="#e0a06f"/>
<circle cx="559.1" cy="61.2" r="2.05" fill="#e0a06f"/>
<circle cx="423.7" cy="55.8" r="2.05" fill="#e0a06f"/>
<circle cx="488.0" cy="66.1" r="2.05" fill="#e0a06f"/>
<circle cx="423.7" cy="50.0" r="2.05" fill="#e0a06f"/>
<circle cx="607.0" cy="65.4" r="2.05" fill="#e0a06f"/>
<circle cx="433.7" cy="64.4" r="2.05" fill="#e0a06f"/>
<circle cx="592.6" cy="59.4" r="2.05" fill="#e0a06f"/>
<circle cx="545.9" cy="58.3" r="2.05" fill="#e0a06f"/>
<circle cx="431.1" cy="62.7" r="2.05" fill="#e0a06f"/>
<circle cx="478.4" cy="60.1" r="2.05" fill="#e0a06f"/>
<circle cx="414.0" cy="61.1" r="2.05" fill="#e0a06f"/>
<circle cx="489.0" cy="68.6" r="2.05" fill="#e0a06f"/>
<circle cx="617.7" cy="65.3" r="2.05" fill="#e0a06f"/>
<circle cx="416.2" cy="57.6" r="2.05" fill="#e0a06f"/>
<circle cx="503.8" cy="59.5" r="2.05" fill="#e0a06f"/>
<circle cx="525.7" cy="67.3" r="2.05" fill="#e0a06f"/>
<circle cx="595.7" cy="63.8" r="2.05" fill="#e0a06f"/>
<circle cx="409.8" cy="60.0" r="2.05" fill="#e0a06f"/>
<circle cx="574.1" cy="68.6" r="2.05" fill="#e0a06f"/>
<circle cx="515.7" cy="62.9" r="2.05" fill="#e0a06f"/>
<circle cx="449.4" cy="58.1" r="2.05" fill="#e0a06f"/>
<circle cx="465.8" cy="72.6" r="2.05" fill="#e0a06f"/>
<circle cx="470.8" cy="61.2" r="2.05" fill="#e0a06f"/>
<circle cx="433.2" cy="57.8" r="2.05" fill="#e0a06f"/>
<circle cx="427.0" cy="60.1" r="2.05" fill="#e0a06f"/>
<circle cx="545.1" cy="57.4" r="2.05" fill="#e0a06f"/>
<circle cx="496.2" cy="64.0" r="2.05" fill="#e0a06f"/>
<circle cx="601.4" cy="62.3" r="2.05" fill="#e0a06f"/>
<circle cx="454.0" cy="66.6" r="2.05" fill="#e0a06f"/>
<circle cx="491.4" cy="58.6" r="2.05" fill="#e0a06f"/>
<circle cx="460.0" cy="56.0" r="2.05" fill="#e0a06f"/>
<circle cx="572.1" cy="61.9" r="2.05" fill="#e0a06f"/>
<circle cx="484.8" cy="66.9" r="2.05" fill="#e0a06f"/>
<circle cx="552.5" cy="68.1" r="2.05" fill="#e0a06f"/>
<circle cx="446.1" cy="63.4" r="2.05" fill="#e0a06f"/>
<circle cx="436.7" cy="57.0" r="2.05" fill="#e0a06f"/>
<circle cx="600.7" cy="63.9" r="2.05" fill="#e0a06f"/>
<circle cx="561.4" cy="65.4" r="2.05" fill="#e0a06f"/>
<circle cx="442.9" cy="62.6" r="2.05" fill="#e0a06f"/>
<circle cx="522.3" cy="65.9" r="2.05" fill="#e0a06f"/>
<circle cx="480.4" cy="68.9" r="2.05" fill="#e0a06f"/>
<circle cx="431.5" cy="60.8" r="2.05" fill="#e0a06f"/>
<circle cx="431.5" cy="70.2" r="2.05" fill="#e0a06f"/>
<circle cx="567.9" cy="62.4" r="2.05" fill="#e0a06f"/>
<circle cx="451.9" cy="64.8" r="2.05" fill="#e0a06f"/>
<circle cx="493.4" cy="64.3" r="2.05" fill="#e0a06f"/>
<circle cx="495.7" cy="61.2" r="2.05" fill="#e0a06f"/>
<circle cx="546.1" cy="59.2" r="2.05" fill="#e0a06f"/>
<circle cx="440.1" cy="56.8" r="2.05" fill="#e0a06f"/>
<circle cx="605.6" cy="65.6" r="2.05" fill="#e0a06f"/>
<circle cx="533.5" cy="60.7" r="2.05" fill="#e0a06f"/>
<circle cx="565.5" cy="64.6" r="2.05" fill="#e0a06f"/>
<circle cx="576.7" cy="65.7" r="2.05" fill="#e0a06f"/>
<circle cx="548.1" cy="58.9" r="2.05" fill="#e0a06f"/>
<circle cx="477.1" cy="66.0" r="2.05" fill="#e0a06f"/>
<circle cx="578.5" cy="64.8" r="2.05" fill="#e0a06f"/>
<circle cx="545.5" cy="59.6" r="2.05" fill="#e0a06f"/>
<circle cx="543.8" cy="64.6" r="2.05" fill="#e0a06f"/>
<circle cx="555.4" cy="66.0" r="2.05" fill="#e0a06f"/>
<circle cx="577.6" cy="67.0" r="2.05" fill="#e0a06f"/>
<circle cx="515.3" cy="69.7" r="2.05" fill="#e0a06f"/>
<circle cx="444.2" cy="63.8" r="2.05" fill="#e0a06f"/>
<circle cx="612.7" cy="65.9" r="2.05" fill="#e0a06f"/>
<circle cx="526.4" cy="65.5" r="2.05" fill="#e0a06f"/>
<circle cx="520.1" cy="64.8" r="2.05" fill="#e0a06f"/>
<circle cx="498.1" cy="56.4" r="2.05" fill="#e0a06f"/>
<circle cx="454.9" cy="57.2" r="2.05" fill="#e0a06f"/>
<circle cx="435.9" cy="69.8" r="2.05" fill="#e0a06f"/>
<circle cx="486.3" cy="62.1" r="2.05" fill="#e0a06f"/>
<circle cx="412.4" cy="67.0" r="2.05" fill="#e0a06f"/>
<circle cx="500.3" cy="61.0" r="2.05" fill="#e0a06f"/>
<circle cx="458.0" cy="65.2" r="2.05" fill="#e0a06f"/>
<circle cx="612.5" cy="64.0" r="2.05" fill="#e0a06f"/>
<circle cx="494.2" cy="69.4" r="2.05" fill="#e0a06f"/>
<circle cx="437.4" cy="64.8" r="2.05" fill="#e0a06f"/>
<circle cx="510.8" cy="58.0" r="2.05" fill="#e0a06f"/>
<circle cx="458.3" cy="57.0" r="2.05" fill="#e0a06f"/>
<circle cx="586.3" cy="66.3" r="2.05" fill="#e0a06f"/>
<circle cx="510.6" cy="61.0" r="2.05" fill="#e0a06f"/>
<circle cx="589.6" cy="62.5" r="2.05" fill="#e0a06f"/>
<circle cx="593.2" cy="61.4" r="2.05" fill="#e0a06f"/>
<circle cx="501.5" cy="64.7" r="2.05" fill="#e0a06f"/>
<circle cx="410.1" cy="61.8" r="2.05" fill="#e0a06f"/>
<circle cx="474.7" cy="65.6" r="2.05" fill="#e0a06f"/>
<circle cx="502.1" cy="60.9" r="2.05" fill="#e0a06f"/>
<circle cx="610.1" cy="59.6" r="2.05" fill="#e0a06f"/>
<circle cx="421.8" cy="68.9" r="2.05" fill="#e0a06f"/>
<circle cx="439.8" cy="58.4" r="2.05" fill="#e0a06f"/>
<circle cx="546.3" cy="71.0" r="2.05" fill="#e0a06f"/>
<circle cx="551.2" cy="63.5" r="2.05" fill="#e0a06f"/>
<circle cx="431.4" cy="63.3" r="2.05" fill="#e0a06f"/>
<circle cx="484.3" cy="69.3" r="2.05" fill="#e0a06f"/>
<circle cx="604.8" cy="65.9" r="2.05" fill="#e0a06f"/>
<circle cx="540.9" cy="69.0" r="2.05" fill="#e0a06f"/>
<circle cx="553.9" cy="65.2" r="2.05" fill="#e0a06f"/>
<circle cx="452.1" cy="55.0" r="2.05" fill="#e0a06f"/>
<circle cx="524.2" cy="56.1" r="2.05" fill="#e0a06f"/>
<circle cx="529.4" cy="65.5" r="2.05" fill="#e0a06f"/>
<circle cx="460.1" cy="61.2" r="2.05" fill="#e0a06f"/>
<circle cx="510.4" cy="62.8" r="2.05" fill="#e0a06f"/>
<circle cx="515.6" cy="55.9" r="2.05" fill="#e0a06f"/>
<circle cx="410.9" cy="60.3" r="2.05" fill="#e0a06f"/>
<circle cx="510.6" cy="59.3" r="2.05" fill="#e0a06f"/>
<circle cx="490.5" cy="56.5" r="2.05" fill="#e0a06f"/>
<circle cx="617.0" cy="60.6" r="2.05" fill="#e0a06f"/>
<circle cx="415.7" cy="57.7" r="2.05" fill="#e0a06f"/>
<circle cx="556.9" cy="55.9" r="2.05" fill="#e0a06f"/>
<circle cx="519.8" cy="71.6" r="2.05" fill="#e0a06f"/>
<circle cx="603.4" cy="62.3" r="2.05" fill="#e0a06f"/>
<circle cx="482.6" cy="54.2" r="2.05" fill="#e0a06f"/>
<circle cx="488.6" cy="56.3" r="2.05" fill="#e0a06f"/>
<circle cx="455.0" cy="61.5" r="2.05" fill="#e0a06f"/>
<circle cx="500.7" cy="64.2" r="2.05" fill="#e0a06f"/>
<circle cx="588.3" cy="60.8" r="2.05" fill="#e0a06f"/>
<circle cx="518.3" cy="53.2" r="2.05" fill="#e0a06f"/>
<circle cx="550.9" cy="62.5" r="2.05" fill="#e0a06f"/>
<circle cx="481.0" cy="61.1" r="2.05" fill="#e0a06f"/>
<circle cx="546.6" cy="67.1" r="2.05" fill="#e0a06f"/>
<circle cx="418.2" cy="66.7" r="2.05" fill="#e0a06f"/>
<circle cx="420.2" cy="58.9" r="2.05" fill="#e0a06f"/>
<circle cx="410.8" cy="67.9" r="2.05" fill="#e0a06f"/>
<circle cx="551.6" cy="60.8" r="2.05" fill="#e0a06f"/>
<circle cx="606.0" cy="60.1" r="2.05" fill="#e0a06f"/>
<circle cx="559.9" cy="59.9" r="2.05" fill="#e0a06f"/>
<circle cx="556.6" cy="61.1" r="2.05" fill="#e0a06f"/>
<circle cx="574.2" cy="60.0" r="2.05" fill="#e0a06f"/>
<circle cx="448.7" cy="64.0" r="2.05" fill="#e0a06f"/>
<circle cx="551.1" cy="55.8" r="2.05" fill="#e0a06f"/>
<circle cx="587.2" cy="60.9" r="2.05" fill="#e0a06f"/>
<circle cx="474.7" cy="61.5" r="2.05" fill="#e0a06f"/>
<circle cx="478.3" cy="57.0" r="2.05" fill="#e0a06f"/>
<circle cx="421.3" cy="54.6" r="2.05" fill="#e0a06f"/>
<circle cx="418.0" cy="64.7" r="2.05" fill="#e0a06f"/>
<circle cx="607.9" cy="59.7" r="2.05" fill="#e0a06f"/>
<circle cx="412.6" cy="53.7" r="2.05" fill="#e0a06f"/>
<circle cx="621.3" cy="59.7" r="2.05" fill="#e0a06f"/>
<circle cx="498.6" cy="61.2" r="2.05" fill="#e0a06f"/>
<circle cx="442.3" cy="60.3" r="2.05" fill="#e0a06f"/>
<circle cx="410.5" cy="71.0" r="2.05" fill="#e0a06f"/>
<circle cx="428.5" cy="75.1" r="2.05" fill="#e0a06f"/>
<circle cx="437.4" cy="62.0" r="2.05" fill="#e0a06f"/>
<circle cx="567.9" cy="60.7" r="2.05" fill="#e0a06f"/>
<circle cx="420.3" cy="60.6" r="2.05" fill="#e0a06f"/>
<circle cx="567.1" cy="57.0" r="2.05" fill="#e0a06f"/>
<circle cx="545.3" cy="55.4" r="2.05" fill="#e0a06f"/>
<circle cx="464.4" cy="66.3" r="2.05" fill="#e0a06f"/>
<circle cx="564.4" cy="67.5" r="2.05" fill="#e0a06f"/>
<circle cx="586.0" cy="63.4" r="2.05" fill="#e0a06f"/>
<circle cx="476.7" cy="66.6" r="2.05" fill="#e0a06f"/>
<circle cx="514.5" cy="68.9" r="2.05" fill="#e0a06f"/>
<circle cx="488.9" cy="57.4" r="2.05" fill="#e0a06f"/>
<circle cx="440.8" cy="65.0" r="2.05" fill="#e0a06f"/>
<circle cx="488.0" cy="60.0" r="2.05" fill="#e0a06f"/>
<circle cx="492.8" cy="59.9" r="2.05" fill="#e0a06f"/>
<circle cx="613.6" cy="61.0" r="2.05" fill="#e0a06f"/>
<circle cx="422.6" cy="60.2" r="2.05" fill="#e0a06f"/>
<circle cx="561.4" cy="60.8" r="2.05" fill="#e0a06f"/>
<circle cx="620.6" cy="66.2" r="2.05" fill="#e0a06f"/>
<circle cx="539.3" cy="56.5" r="2.05" fill="#e0a06f"/>
<circle cx="490.9" cy="66.2" r="2.05" fill="#e0a06f"/>
<circle cx="539.5" cy="64.4" r="2.05" fill="#e0a06f"/>
<circle cx="409.9" cy="59.1" r="2.05" fill="#e0a06f"/>
<circle cx="500.8" cy="65.9" r="2.05" fill="#e0a06f"/>
<circle cx="418.6" cy="54.1" r="2.05" fill="#e0a06f"/>
<circle cx="584.8" cy="59.6" r="2.05" fill="#e0a06f"/>
<circle cx="593.4" cy="62.0" r="2.05" fill="#e0a06f"/>
<circle cx="557.4" cy="61.7" r="2.05" fill="#e0a06f"/>
<circle cx="529.1" cy="64.0" r="2.05" fill="#e0a06f"/>
<circle cx="452.8" cy="65.4" r="2.05" fill="#e0a06f"/>
<circle cx="540.6" cy="61.8" r="2.05" fill="#e0a06f"/>
<circle cx="510.0" cy="62.6" r="2.05" fill="#e0a06f"/>
<circle cx="580.5" cy="68.0" r="2.05" fill="#e0a06f"/>
<circle cx="428.4" cy="63.0" r="2.05" fill="#e0a06f"/>
<circle cx="534.7" cy="58.9" r="2.05" fill="#e0a06f"/>
<circle cx="600.7" cy="59.3" r="2.05" fill="#e0a06f"/>
<circle cx="450.4" cy="63.4" r="2.05" fill="#e0a06f"/>
<circle cx="448.5" cy="59.1" r="2.05" fill="#e0a06f"/>
<circle cx="496.4" cy="66.4" r="2.05" fill="#e0a06f"/>
<circle cx="441.7" cy="66.7" r="2.05" fill="#e0a06f"/>
<circle cx="432.4" cy="62.5" r="2.05" fill="#e0a06f"/>
<circle cx="579.6" cy="60.7" r="2.05" fill="#e0a06f"/>
<circle cx="521.7" cy="61.0" r="2.05" fill="#e0a06f"/>
<circle cx="416.8" cy="68.0" r="2.05" fill="#e0a06f"/>
<circle cx="532.0" cy="59.9" r="2.05" fill="#e0a06f"/>
<circle cx="577.8" cy="67.8" r="2.05" fill="#e0a06f"/>
<circle cx="586.4" cy="60.3" r="2.05" fill="#e0a06f"/>
<circle cx="464.4" cy="63.4" r="2.05" fill="#e0a06f"/>
<circle cx="427.6" cy="65.2" r="2.05" fill="#e0a06f"/>
<circle cx="529.9" cy="50.0" r="2.05" fill="#e0a06f"/>
<circle cx="606.0" cy="64.8" r="2.05" fill="#e0a06f"/>
<circle cx="538.7" cy="69.1" r="2.05" fill="#e0a06f"/>
<circle cx="465.1" cy="69.6" r="2.05" fill="#e0a06f"/>
<circle cx="547.9" cy="60.3" r="2.05" fill="#e0a06f"/>
<circle cx="506.3" cy="59.6" r="2.05" fill="#e0a06f"/>
<circle cx="618.1" cy="63.3" r="2.05" fill="#e0a06f"/>
<circle cx="464.8" cy="63.8" r="2.05" fill="#e0a06f"/>
<circle cx="604.5" cy="63.8" r="2.05" fill="#e0a06f"/>
<circle cx="579.4" cy="62.2" r="2.05" fill="#e0a06f"/>
<circle cx="549.2" cy="65.6" r="2.05" fill="#e0a06f"/>
<circle cx="572.6" cy="63.9" r="2.05" fill="#e0a06f"/>
<circle cx="555.7" cy="58.4" r="2.05" fill="#e0a06f"/>
<circle cx="432.3" cy="58.6" r="2.05" fill="#e0a06f"/>
<circle cx="465.0" cy="60.2" r="2.05" fill="#e0a06f"/>
<circle cx="461.0" cy="62.9" r="2.05" fill="#e0a06f"/>
<circle cx="555.9" cy="62.5" r="2.05" fill="#e0a06f"/>
<circle cx="417.3" cy="57.9" r="2.05" fill="#e0a06f"/>
<circle cx="457.1" cy="71.8" r="2.05" fill="#e0a06f"/>
<circle cx="439.7" cy="56.0" r="2.05" fill="#e0a06f"/>
<circle cx="430.4" cy="67.9" r="2.05" fill="#e0a06f"/>
<circle cx="507.2" cy="58.5" r="2.05" fill="#e0a06f"/>
<circle cx="587.3" cy="61.9" r="2.05" fill="#e0a06f"/>
<circle cx="457.4" cy="61.0" r="2.05" fill="#e0a06f"/>
<circle cx="563.7" cy="66.8" r="2.05" fill="#e0a06f"/>
<circle cx="467.0" cy="69.0" r="2.05" fill="#e0a06f"/>
<circle cx="443.1" cy="64.6" r="2.05" fill="#e0a06f"/>
<circle cx="445.7" cy="59.4" r="2.05" fill="#e0a06f"/>
<circle cx="478.2" cy="74.6" r="2.05" fill="#e0a06f"/>
<circle cx="421.8" cy="75.3" r="2.05" fill="#e0a06f"/>
<circle cx="553.8" cy="60.3" r="2.05" fill="#e0a06f"/>
<circle cx="465.2" cy="63.1" r="2.05" fill="#e0a06f"/>
<circle cx="488.2" cy="74.4" r="2.05" fill="#e0a06f"/>
<circle cx="430.6" cy="62.4" r="2.05" fill="#e0a06f"/>
<circle cx="603.1" cy="62.7" r="2.05" fill="#e0a06f"/>
<circle cx="620.9" cy="60.9" r="2.05" fill="#e0a06f"/>
<circle cx="583.8" cy="63.1" r="2.05" fill="#e0a06f"/>
<circle cx="589.3" cy="63.1" r="2.05" fill="#e0a06f"/>
<circle cx="449.6" cy="65.1" r="2.05" fill="#e0a06f"/>
<circle cx="532.9" cy="61.6" r="2.05" fill="#e0a06f"/>
<circle cx="448.4" cy="61.9" r="2.05" fill="#e0a06f"/>
<circle cx="426.6" cy="59.7" r="2.05" fill="#e0a06f"/>
<circle cx="540.9" cy="62.5" r="2.05" fill="#e0a06f"/>
<circle cx="541.8" cy="65.1" r="2.05" fill="#e0a06f"/>
<circle cx="584.8" cy="63.3" r="2.05" fill="#e0a06f"/>
<circle cx="567.8" cy="64.0" r="2.05" fill="#e0a06f"/>
<circle cx="565.4" cy="64.0" r="2.05" fill="#e0a06f"/>
<circle cx="591.4" cy="59.1" r="2.05" fill="#e0a06f"/>
<circle cx="516.0" cy="66.2" r="2.05" fill="#e0a06f"/>
<circle cx="597.9" cy="61.3" r="2.05" fill="#e0a06f"/>
<circle cx="449.7" cy="60.9" r="2.05" fill="#e0a06f"/>
<circle cx="489.7" cy="64.4" r="2.05" fill="#e0a06f"/>
<circle cx="410.5" cy="57.4" r="2.05" fill="#e0a06f"/>
<circle cx="435.6" cy="64.3" r="2.05" fill="#e0a06f"/>
<circle cx="585.9" cy="59.8" r="2.05" fill="#e0a06f"/>
<circle cx="491.9" cy="68.1" r="2.05" fill="#e0a06f"/>
<circle cx="422.7" cy="70.4" r="2.05" fill="#e0a06f"/>
<circle cx="520.4" cy="61.6" r="2.05" fill="#e0a06f"/>
<circle cx="525.6" cy="65.2" r="2.05" fill="#e0a06f"/>
<circle cx="448.9" cy="62.0" r="2.05" fill="#e0a06f"/>
<circle cx="463.6" cy="64.4" r="2.05" fill="#e0a06f"/>
<circle cx="560.5" cy="63.2" r="2.05" fill="#e0a06f"/>
<circle cx="413.3" cy="57.7" r="2.05" fill="#e0a06f"/>
<circle cx="561.3" cy="61.1" r="2.05" fill="#e0a06f"/>
<circle cx="597.3" cy="64.4" r="2.05" fill="#e0a06f"/>
<circle cx="516.1" cy="63.3" r="2.05" fill="#e0a06f"/>
<circle cx="469.9" cy="60.9" r="2.05" fill="#e0a06f"/>
<circle cx="537.3" cy="64.5" r="2.05" fill="#e0a06f"/>
<circle cx="441.3" cy="62.5" r="2.05" fill="#e0a06f"/>
<circle cx="587.9" cy="60.2" r="2.05" fill="#e0a06f"/>
<circle cx="493.5" cy="65.2" r="2.05" fill="#e0a06f"/>
<circle cx="495.0" cy="56.5" r="2.05" fill="#e0a06f"/>
<circle cx="577.3" cy="63.1" r="2.05" fill="#e0a06f"/>
<circle cx="503.6" cy="68.1" r="2.05" fill="#e0a06f"/>
<circle cx="583.2" cy="66.7" r="2.05" fill="#e0a06f"/>
<circle cx="421.1" cy="54.7" r="2.05" fill="#e0a06f"/>
<circle cx="616.4" cy="63.1" r="2.05" fill="#e0a06f"/>
<circle cx="546.2" cy="66.3" r="2.05" fill="#e0a06f"/>
<circle cx="524.2" cy="59.0" r="2.05" fill="#e0a06f"/>
<circle cx="414.0" cy="64.7" r="2.05" fill="#e0a06f"/>
<circle cx="619.0" cy="66.6" r="2.05" fill="#e0a06f"/>
<circle cx="584.3" cy="60.4" r="2.05" fill="#e0a06f"/>
<circle cx="600.6" cy="61.6" r="2.05" fill="#e0a06f"/>
<circle cx="556.0" cy="60.9" r="2.05" fill="#e0a06f"/>
<circle cx="526.6" cy="59.8" r="2.05" fill="#e0a06f"/>
<circle cx="521.9" cy="61.0" r="2.05" fill="#e0a06f"/>
<circle cx="614.9" cy="61.7" r="2.05" fill="#e0a06f"/>
<circle cx="435.5" cy="68.4" r="2.05" fill="#e0a06f"/>
<circle cx="616.0" cy="62.7" r="2.05" fill="#e0a06f"/>
<circle cx="524.8" cy="66.7" r="2.05" fill="#e0a06f"/>
<circle cx="436.3" cy="61.4" r="2.05" fill="#e0a06f"/>
<circle cx="471.8" cy="66.6" r="2.05" fill="#e0a06f"/>
<circle cx="428.5" cy="65.7" r="2.05" fill="#e0a06f"/>
<circle cx="532.7" cy="58.9" r="2.05" fill="#e0a06f"/>
<circle cx="453.0" cy="57.6" r="2.05" fill="#e0a06f"/>
<circle cx="541.9" cy="63.9" r="2.05" fill="#e0a06f"/>
<circle cx="476.6" cy="63.5" r="2.05" fill="#e0a06f"/>
<circle cx="492.3" cy="67.2" r="2.05" fill="#e0a06f"/>
<circle cx="412.1" cy="64.6" r="2.05" fill="#e0a06f"/>
<circle cx="529.7" cy="60.9" r="2.05" fill="#e0a06f"/>
<circle cx="471.0" cy="59.6" r="2.05" fill="#e0a06f"/>
<circle cx="443.8" cy="69.5" r="2.05" fill="#e0a06f"/>
<circle cx="597.7" cy="65.6" r="2.05" fill="#e0a06f"/>
<circle cx="504.5" cy="64.1" r="2.05" fill="#e0a06f"/>
<circle cx="433.1" cy="69.4" r="2.05" fill="#e0a06f"/>
<circle cx="442.9" cy="60.8" r="2.05" fill="#e0a06f"/>
<circle cx="485.6" cy="57.1" r="2.05" fill="#e0a06f"/>
<circle cx="586.9" cy="59.2" r="2.05" fill="#e0a06f"/>
<circle cx="569.1" cy="63.2" r="2.05" fill="#e0a06f"/>
<circle cx="579.0" cy="59.6" r="2.05" fill="#e0a06f"/>
<circle cx="607.1" cy="63.2" r="2.05" fill="#e0a06f"/>
<circle cx="574.9" cy="62.8" r="2.05" fill="#e0a06f"/>
<circle cx="517.0" cy="57.5" r="2.05" fill="#e0a06f"/>
<circle cx="578.8" cy="60.8" r="2.05" fill="#e0a06f"/>
<circle cx="540.7" cy="59.3" r="2.05" fill="#e0a06f"/>
<circle cx="565.7" cy="64.0" r="2.05" fill="#e0a06f"/>
<circle cx="493.9" cy="60.3" r="2.05" fill="#e0a06f"/>
<circle cx="579.5" cy="64.7" r="2.05" fill="#e0a06f"/>
<circle cx="517.4" cy="64.0" r="2.05" fill="#e0a06f"/>
<circle cx="440.8" cy="65.9" r="2.05" fill="#e0a06f"/>
<circle cx="535.1" cy="65.5" r="2.05" fill="#e0a06f"/>
<circle cx="591.7" cy="61.8" r="2.05" fill="#e0a06f"/>
<circle cx="616.6" cy="57.8" r="2.05" fill="#e0a06f"/>
<circle cx="411.8" cy="66.9" r="2.05" fill="#e0a06f"/>
<circle cx="531.5" cy="68.0" r="2.05" fill="#e0a06f"/>
<circle cx="525.8" cy="58.2" r="2.05" fill="#e0a06f"/>
<circle cx="521.3" cy="61.4" r="2.05" fill="#e0a06f"/>
<circle cx="486.8" cy="59.2" r="2.05" fill="#e0a06f"/>
<circle cx="485.3" cy="59.4" r="2.05" fill="#e0a06f"/>
<circle cx="430.9" cy="57.8" r="2.05" fill="#e0a06f"/>
<circle cx="496.1" cy="55.9" r="2.05" fill="#e0a06f"/>
<circle cx="617.8" cy="60.6" r="2.05" fill="#e0a06f"/>
<circle cx="504.6" cy="66.1" r="2.05" fill="#e0a06f"/>
<circle cx="524.0" cy="62.7" r="2.05" fill="#e0a06f"/>
<circle cx="446.4" cy="70.3" r="2.05" fill="#e0a06f"/>
<circle cx="520.2" cy="61.9" r="2.05" fill="#e0a06f"/>
<circle cx="602.7" cy="66.7" r="2.05" fill="#e0a06f"/>
<circle cx="601.3" cy="55.3" r="2.05" fill="#e0a06f"/>
<circle cx="443.3" cy="57.6" r="2.05" fill="#e0a06f"/>
<circle cx="450.1" cy="62.3" r="2.05" fill="#e0a06f"/>
<circle cx="545.6" cy="56.5" r="2.05" fill="#e0a06f"/>
<circle cx="547.0" cy="71.2" r="2.05" fill="#e0a06f"/>
<circle cx="498.4" cy="60.8" r="2.05" fill="#e0a06f"/>
<circle cx="410.3" cy="69.0" r="2.05" fill="#e0a06f"/>
<circle cx="591.4" cy="62.1" r="2.05" fill="#e0a06f"/>
<circle cx="517.0" cy="60.7" r="2.05" fill="#e0a06f"/>
<circle cx="467.0" cy="50.0" r="2.05" fill="#e0a06f"/>
<circle cx="533.6" cy="60.5" r="2.05" fill="#e0a06f"/>
<circle cx="435.7" cy="62.7" r="2.05" fill="#e0a06f"/>
<circle cx="431.1" cy="60.5" r="2.05" fill="#e0a06f"/>
<circle cx="522.4" cy="58.0" r="2.05" fill="#e0a06f"/>
<circle cx="422.9" cy="57.4" r="2.05" fill="#e0a06f"/>
<circle cx="575.9" cy="62.3" r="2.05" fill="#e0a06f"/>
<circle cx="446.1" cy="58.8" r="2.05" fill="#e0a06f"/>
<circle cx="431.0" cy="57.0" r="2.05" fill="#e0a06f"/>
<circle cx="506.7" cy="61.1" r="2.05" fill="#e0a06f"/>
<circle cx="421.3" cy="50.0" r="2.05" fill="#e0a06f"/>
<circle cx="504.5" cy="58.1" r="2.05" fill="#e0a06f"/>
<circle cx="463.4" cy="69.8" r="2.05" fill="#e0a06f"/>
<circle cx="477.5" cy="57.5" r="2.05" fill="#e0a06f"/>
<circle cx="585.7" cy="57.0" r="2.05" fill="#e0a06f"/>
<circle cx="516.5" cy="54.1" r="2.05" fill="#e0a06f"/>
<circle cx="462.0" cy="62.1" r="2.05" fill="#e0a06f"/>
<circle cx="476.3" cy="58.3" r="2.05" fill="#e0a06f"/>
<circle cx="514.1" cy="62.9" r="2.05" fill="#e0a06f"/>
<circle cx="486.9" cy="65.1" r="2.05" fill="#e0a06f"/>
<circle cx="619.4" cy="61.9" r="2.05" fill="#e0a06f"/>
<circle cx="524.8" cy="62.2" r="2.05" fill="#e0a06f"/>
<circle cx="496.6" cy="67.7" r="2.05" fill="#e0a06f"/>
<circle cx="485.4" cy="67.7" r="2.05" fill="#e0a06f"/>
<circle cx="450.8" cy="62.7" r="2.05" fill="#e0a06f"/>
<circle cx="553.0" cy="63.8" r="2.05" fill="#e0a06f"/>
<circle cx="443.2" cy="65.4" r="2.05" fill="#e0a06f"/>
<circle cx="589.9" cy="64.3" r="2.05" fill="#e0a06f"/>
<circle cx="505.3" cy="63.5" r="2.05" fill="#e0a06f"/>
<circle cx="485.7" cy="60.6" r="2.05" fill="#e0a06f"/>
<circle cx="490.9" cy="66.6" r="2.05" fill="#e0a06f"/>
<circle cx="518.5" cy="71.2" r="2.05" fill="#e0a06f"/>
<circle cx="507.3" cy="62.0" r="2.05" fill="#e0a06f"/>
<circle cx="603.8" cy="60.9" r="2.05" fill="#e0a06f"/>
<circle cx="489.0" cy="60.7" r="2.05" fill="#e0a06f"/>
<circle cx="597.9" cy="61.8" r="2.05" fill="#e0a06f"/>
<circle cx="520.3" cy="62.0" r="2.05" fill="#e0a06f"/>
<circle cx="492.6" cy="69.2" r="2.05" fill="#e0a06f"/>
<circle cx="532.1" cy="61.7" r="2.05" fill="#e0a06f"/>
<circle cx="447.7" cy="64.4" r="2.05" fill="#e0a06f"/>
<circle cx="478.8" cy="66.6" r="2.05" fill="#e0a06f"/>
<circle cx="487.6" cy="65.8" r="2.05" fill="#e0a06f"/>
<circle cx="473.6" cy="61.6" r="2.05" fill="#e0a06f"/>
<circle cx="436.7" cy="65.4" r="2.05" fill="#e0a06f"/>
<circle cx="470.5" cy="68.4" r="2.05" fill="#e0a06f"/>
<circle cx="600.2" cy="58.8" r="2.05" fill="#e0a06f"/>
<circle cx="438.0" cy="68.9" r="2.05" fill="#e0a06f"/>
<circle cx="552.8" cy="63.8" r="2.05" fill="#e0a06f"/>
<circle cx="498.6" cy="61.9" r="2.05" fill="#e0a06f"/>
<circle cx="592.4" cy="60.9" r="2.05" fill="#e0a06f"/>
<circle cx="545.3" cy="68.4" r="2.05" fill="#e0a06f"/>
<circle cx="568.1" cy="67.5" r="2.05" fill="#e0a06f"/>
<circle cx="418.2" cy="64.1" r="2.05" fill="#e0a06f"/>
<circle cx="475.0" cy="64.9" r="2.05" fill="#e0a06f"/>
<circle cx="418.0" cy="60.7" r="2.05" fill="#e0a06f"/>
<circle cx="590.8" cy="61.6" r="2.05" fill="#e0a06f"/>
<circle cx="564.3" cy="58.5" r="2.05" fill="#e0a06f"/>
<circle cx="484.9" cy="65.0" r="2.05" fill="#e0a06f"/>
<circle cx="589.7" cy="62.8" r="2.05" fill="#e0a06f"/>
<circle cx="594.0" cy="63.8" r="2.05" fill="#e0a06f"/>
<circle cx="419.7" cy="68.5" r="2.05" fill="#e0a06f"/>
<circle cx="454.9" cy="70.1" r="2.05" fill="#e0a06f"/>
<circle cx="571.4" cy="61.9" r="2.05" fill="#e0a06f"/>
<circle cx="571.0" cy="60.0" r="2.05" fill="#e0a06f"/>
<circle cx="470.2" cy="66.6" r="2.05" fill="#e0a06f"/>
<circle cx="610.4" cy="62.1" r="2.05" fill="#e0a06f"/>
<circle cx="569.0" cy="60.6" r="2.05" fill="#e0a06f"/>
<circle cx="421.2" cy="59.0" r="2.05" fill="#e0a06f"/>
<circle cx="502.0" cy="64.5" r="2.05" fill="#e0a06f"/>
<circle cx="574.1" cy="62.3" r="2.05" fill="#e0a06f"/>
<circle cx="561.3" cy="62.6" r="2.05" fill="#e0a06f"/>
<circle cx="618.9" cy="66.4" r="2.05" fill="#e0a06f"/>
<circle cx="527.0" cy="65.9" r="2.05" fill="#e0a06f"/>
<circle cx="498.4" cy="64.0" r="2.05" fill="#e0a06f"/>
<circle cx="476.6" cy="61.1" r="2.05" fill="#e0a06f"/>
<circle cx="460.9" cy="56.8" r="2.05" fill="#e0a06f"/>
<circle cx="520.8" cy="65.8" r="2.05" fill="#e0a06f"/>
<circle cx="474.2" cy="60.4" r="2.05" fill="#e0a06f"/>
<circle cx="440.1" cy="58.7" r="2.05" fill="#e0a06f"/>
<circle cx="527.9" cy="68.3" r="2.05" fill="#e0a06f"/>
<circle cx="446.0" cy="58.8" r="2.05" fill="#e0a06f"/>
<circle cx="575.0" cy="61.0" r="2.05" fill="#e0a06f"/>
<circle cx="434.2" cy="60.7" r="2.05" fill="#e0a06f"/>
<circle cx="422.5" cy="64.8" r="2.05" fill="#e0a06f"/>
<circle cx="452.1" cy="60.7" r="2.05" fill="#e0a06f"/>
<circle cx="479.6" cy="63.3" r="2.05" fill="#e0a06f"/>
<circle cx="487.9" cy="63.2" r="2.05" fill="#e0a06f"/>
<circle cx="623.8" cy="63.3" r="2.05" fill="#e0a06f"/>
<circle cx="427.6" cy="68.1" r="2.05" fill="#e0a06f"/>
<circle cx="433.0" cy="61.9" r="2.05" fill="#e0a06f"/>
<circle cx="490.2" cy="75.3" r="2.05" fill="#1d6a62"/>
<circle cx="512.7" cy="74.7" r="2.05" fill="#1d6a62"/>
<circle cx="509.2" cy="79.1" r="2.05" fill="#1d6a62"/>
<circle cx="511.8" cy="84.8" r="2.05" fill="#1d6a62"/>
<circle cx="521.4" cy="70.4" r="2.05" fill="#1d6a62"/>
<circle cx="524.8" cy="75.3" r="2.05" fill="#1d6a62"/>
<circle cx="527.8" cy="77.3" r="2.05" fill="#1d6a62"/>
<circle cx="534.7" cy="71.8" r="2.05" fill="#1d6a62"/>
<circle cx="537.5" cy="76.5" r="2.05" fill="#1d6a62"/>
<circle cx="541.0" cy="77.9" r="2.05" fill="#1d6a62"/>
<circle cx="482.9" cy="97.3" r="2.05" fill="#1d6a62"/>
<circle cx="506.6" cy="99.9" r="2.05" fill="#1d6a62"/>
<circle cx="522.6" cy="100.2" r="2.05" fill="#1d6a62"/>
<circle cx="546.2" cy="101.6" r="2.05" fill="#1d6a62"/>
<circle cx="490.2" cy="107.7" r="2.05" fill="#1d6a62"/>
<circle cx="520.2" cy="104.8" r="2.05" fill="#1d6a62"/>
<circle cx="522.2" cy="106.8" r="2.05" fill="#1d6a62"/>
<circle cx="546.5" cy="107.7" r="2.05" fill="#1d6a62"/>
<circle cx="482.0" cy="114.6" r="2.05" fill="#1d6a62"/>
<circle cx="482.9" cy="117.2" r="2.05" fill="#1d6a62"/>
<circle cx="482.9" cy="120.4" r="2.05" fill="#1d6a62"/>
<circle cx="503.2" cy="113.8" r="2.05" fill="#1d6a62"/>
<circle cx="506.6" cy="120.7" r="2.05" fill="#1d6a62"/>
<circle cx="516.2" cy="115.9" r="2.05" fill="#1d6a62"/>
<circle cx="516.7" cy="119.0" r="2.05" fill="#1d6a62"/>
<circle cx="517.0" cy="122.1" r="2.05" fill="#1d6a62"/>
<circle cx="521.4" cy="119.3" r="2.05" fill="#1d6a62"/>
<circle cx="523.6" cy="113.8" r="2.05" fill="#1d6a62"/>
<circle cx="527.8" cy="122.1" r="2.05" fill="#1d6a62"/>
<circle cx="511.8" cy="127.3" r="2.05" fill="#1d6a62"/>
<circle cx="515.3" cy="126.8" r="2.05" fill="#1d6a62"/>
<circle cx="516.7" cy="129.0" r="2.05" fill="#1d6a62"/>
<circle cx="517.9" cy="133.2" r="2.05" fill="#1d6a62"/>
<circle cx="517.6" cy="139.4" r="2.05" fill="#1d6a62"/>
<circle cx="495.0" cy="140.7" r="2.05" fill="#1d6a62"/>
<circle cx="523.1" cy="151.4" r="2.05" fill="#1d6a62"/>
<circle cx="533.0" cy="131.5" r="2.05" fill="#1d6a62"/>
<circle cx="538.7" cy="131.1" r="2.05" fill="#1d6a62"/>
<circle cx="543.1" cy="132.5" r="2.05" fill="#1d6a62"/>
<circle cx="544.4" cy="138.4" r="2.05" fill="#1d6a62"/>
<circle cx="537.9" cy="115.2" r="2.05" fill="#1d6a62"/>
<circle cx="538.7" cy="112.9" r="2.05" fill="#1d6a62"/>
<circle cx="542.7" cy="114.1" r="2.05" fill="#1d6a62"/>
<circle cx="546.5" cy="110.3" r="2.05" fill="#1d6a62"/>
<circle cx="541.3" cy="124.2" r="2.05" fill="#1d6a62"/>
<circle cx="543.9" cy="122.4" r="2.05" fill="#1d6a62"/>
<circle cx="544.8" cy="125.6" r="2.05" fill="#1d6a62"/>
<circle cx="548.6" cy="125.6" r="2.05" fill="#1d6a62"/>
<circle cx="455.5" cy="124.8" r="2.05" fill="#1d6a62"/>
<circle cx="555.9" cy="76.0" r="2.05" fill="#1d6a62"/>
<circle cx="556.3" cy="80.5" r="2.05" fill="#1d6a62"/>
<circle cx="569.3" cy="81.2" r="2.05" fill="#1d6a62"/>
<circle cx="570.7" cy="79.4" r="2.05" fill="#1d6a62"/>
<circle cx="574.0" cy="75.3" r="2.05" fill="#1d6a62"/>
<circle cx="583.5" cy="71.8" r="2.05" fill="#1d6a62"/>
<circle cx="607.1" cy="71.8" r="2.05" fill="#1d6a62"/>
<circle cx="611.8" cy="76.5" r="2.05" fill="#1d6a62"/>
<circle cx="606.1" cy="81.7" r="2.05" fill="#1d6a62"/>
<circle cx="603.6" cy="90.9" r="2.05" fill="#1d6a62"/>
<circle cx="555.9" cy="98.5" r="2.05" fill="#1d6a62"/>
<circle cx="546.4" cy="101.6" r="2.05" fill="#1d6a62"/>
<circle cx="546.7" cy="109.4" r="2.05" fill="#1d6a62"/>
<circle cx="547.6" cy="111.2" r="2.05" fill="#1d6a62"/>
<circle cx="563.7" cy="112.9" r="2.05" fill="#1d6a62"/>
<circle cx="569.3" cy="112.4" r="2.05" fill="#1d6a62"/>
<circle cx="571.0" cy="116.7" r="2.05" fill="#1d6a62"/>
<circle cx="548.8" cy="125.6" r="2.05" fill="#1d6a62"/>
<circle cx="556.8" cy="127.7" r="2.05" fill="#1d6a62"/>
<circle cx="565.0" cy="131.5" r="2.05" fill="#1d6a62"/>
<circle cx="569.3" cy="134.9" r="2.05" fill="#1d6a62"/>
<circle cx="578.0" cy="131.5" r="2.05" fill="#1d6a62"/>
<circle cx="578.0" cy="135.5" r="2.05" fill="#1d6a62"/>
<circle cx="588.0" cy="130.8" r="2.05" fill="#1d6a62"/>
<circle cx="571.0" cy="142.9" r="2.05" fill="#1d6a62"/>
<circle cx="594.1" cy="147.9" r="2.05" fill="#1d6a62"/>
<circle cx="604.8" cy="107.7" r="2.05" fill="#1d6a62"/>
<circle cx="604.0" cy="111.7" r="2.05" fill="#1d6a62"/>
<circle cx="613.5" cy="106.5" r="2.05" fill="#1d6a62"/>
<circle cx="612.7" cy="111.2" r="2.05" fill="#1d6a62"/>
<circle cx="611.8" cy="112.0" r="2.05" fill="#1d6a62"/>
<circle cx="606.6" cy="118.1" r="2.05" fill="#1d6a62"/>
<circle cx="609.2" cy="117.6" r="2.05" fill="#1d6a62"/>
<circle cx="611.8" cy="117.6" r="2.05" fill="#1d6a62"/>
<circle cx="601.9" cy="122.8" r="2.05" fill="#1d6a62"/>
<circle cx="604.0" cy="124.5" r="2.05" fill="#1d6a62"/>
<circle cx="613.5" cy="122.4" r="2.05" fill="#1d6a62"/>
<circle cx="612.7" cy="125.6" r="2.05" fill="#1d6a62"/>
<circle cx="605.4" cy="130.8" r="2.05" fill="#1d6a62"/>
<circle cx="607.8" cy="138.1" r="2.05" fill="#1d6a62"/>
<circle cx="612.3" cy="138.9" r="2.05" fill="#1d6a62"/>
<circle cx="604.8" cy="148.1" r="2.05" fill="#1d6a62"/>
<circle cx="607.1" cy="145.9" r="2.05" fill="#1d6a62"/>
<circle cx="640" cy="17.9" r="2.35" fill="#1d6a62"/>
<circle cx="640" cy="33.4" r="2.35" fill="#e0a06f"/>
<text x="652.60" y="21.40" font-size="8.7" fill="#1a1a1a" text-anchor="start" >q &lt; 0.01</text>
<text x="652.60" y="37.10" font-size="8.7" fill="#1a1a1a" text-anchor="start" >q &gt; 0.01</text>
<text x="449.80" y="15.90" font-size="8.5" fill="#888888" text-anchor="middle" >p.M54</text>
<line x1="449.40" y1="18.20" x2="449.40" y2="40.50" stroke="#888888" stroke-width="0.9"/>
<path d="M447.6,38.6 L449.4,42.8 L451.2,38.6 Z" fill="#888888"/>
<rect x="98.10" y="347.42" width="4.20" height="13.28" fill="#5ebf95"/>
<rect x="108.90" y="347.42" width="4.20" height="13.28" fill="#5ebf95"/>
<rect x="116.10" y="320.86" width="4.20" height="39.84" fill="#4b6fc0"/>
<rect x="116.10" y="307.58" width="4.20" height="13.88" fill="#5ebf95"/>
<rect x="119.70" y="347.42" width="4.20" height="13.28" fill="#e5346f"/>
<rect x="119.70" y="320.86" width="4.20" height="27.16" fill="#5ebf95"/>
<rect x="119.70" y="294.30" width="4.20" height="27.16" fill="#b4a394"/>
<rect x="123.30" y="347.42" width="4.20" height="13.28" fill="#4b6fc0"/>
<rect x="123.30" y="320.86" width="4.20" height="27.16" fill="#5ebf95"/>
<rect x="126.90" y="347.42" width="4.20" height="13.28" fill="#e5346f"/>
<rect x="126.90" y="320.86" width="4.20" height="27.16" fill="#5ebf95"/>
<rect x="130.50" y="347.42" width="4.20" height="13.28" fill="#4b6fc0"/>
<rect x="130.50" y="307.58" width="4.20" height="40.44" fill="#5ebf95"/>
<rect x="134.10" y="334.14" width="4.20" height="26.56" fill="#4b6fc0"/>
<rect x="134.10" y="294.30" width="4.20" height="40.44" fill="#5ebf95"/>
<rect x="137.70" y="347.42" width="4.20" height="13.28" fill="#4b6fc0"/>
<rect x="137.70" y="254.46" width="4.20" height="93.56" fill="#5ebf95"/>
<rect x="141.30" y="347.42" width="4.20" height="13.28" fill="#e5346f"/>
<rect x="141.30" y="320.86" width="4.20" height="27.16" fill="#4b6fc0"/>
<rect x="141.30" y="241.18" width="4.20" height="80.28" fill="#5ebf95"/>
<rect x="144.90" y="347.42" width="4.20" height="13.28" fill="#e5346f"/>
<rect x="144.90" y="334.14" width="4.20" height="13.88" fill="#4b6fc0"/>
<rect x="144.90" y="267.74" width="4.20" height="67.00" fill="#5ebf95"/>
<rect x="148.50" y="307.58" width="4.20" height="53.12" fill="#5ebf95"/>
<rect x="152.10" y="347.42" width="4.20" height="13.28" fill="#e5346f"/>
<rect x="152.10" y="334.14" width="4.20" height="13.88" fill="#4b6fc0"/>
<rect x="152.10" y="307.58" width="4.20" height="27.16" fill="#5ebf95"/>
<rect x="155.70" y="347.42" width="4.20" height="13.28" fill="#4b6fc0"/>
<rect x="155.70" y="307.58" width="4.20" height="40.44" fill="#5ebf95"/>
<rect x="159.30" y="347.42" width="4.20" height="13.28" fill="#e5346f"/>
<rect x="159.30" y="320.86" width="4.20" height="27.16" fill="#5ebf95"/>
<text x="32.90" y="363.70" font-size="8.6" fill="#4d4d4d" text-anchor="end" >0.0</text>
<line x1="37.00" y1="360.70" x2="41.60" y2="360.70" stroke="#444444" stroke-width="1.0"/>
<text x="32.90" y="330.50" font-size="8.6" fill="#4d4d4d" text-anchor="end" >2.5</text>
<line x1="37.00" y1="327.50" x2="41.60" y2="327.50" stroke="#444444" stroke-width="1.0"/>
<text x="32.90" y="297.30" font-size="8.6" fill="#4d4d4d" text-anchor="end" >5.0</text>
<line x1="37.00" y1="294.30" x2="41.60" y2="294.30" stroke="#444444" stroke-width="1.0"/>
<text x="32.90" y="264.10" font-size="8.6" fill="#4d4d4d" text-anchor="end" >7.5</text>
<line x1="37.00" y1="261.10" x2="41.60" y2="261.10" stroke="#444444" stroke-width="1.0"/>
<line x1="52.88" y1="367.40" x2="52.88" y2="371.80" stroke="#444444" stroke-width="1.0"/>
<text x="52.88" y="382.20" font-size="8.3" fill="#4d4d4d" text-anchor="middle" >−4</text>
<line x1="73.76" y1="367.40" x2="73.76" y2="371.80" stroke="#444444" stroke-width="1.0"/>
<text x="73.76" y="382.20" font-size="8.3" fill="#4d4d4d" text-anchor="middle" >−3</text>
<line x1="94.64" y1="367.40" x2="94.64" y2="371.80" stroke="#444444" stroke-width="1.0"/>
<text x="94.64" y="382.20" font-size="8.3" fill="#4d4d4d" text-anchor="middle" >−2</text>
<line x1="115.52" y1="367.40" x2="115.52" y2="371.80" stroke="#444444" stroke-width="1.0"/>
<text x="115.52" y="382.20" font-size="8.3" fill="#4d4d4d" text-anchor="middle" >−1</text>
<line x1="136.40" y1="367.40" x2="136.40" y2="371.80" stroke="#444444" stroke-width="1.0"/>
<text x="136.40" y="382.20" font-size="8.3" fill="#4d4d4d" text-anchor="middle" >0</text>
<line x1="157.28" y1="367.40" x2="157.28" y2="371.80" stroke="#444444" stroke-width="1.0"/>
<text x="157.28" y="382.20" font-size="8.3" fill="#4d4d4d" text-anchor="middle" >1</text>
<text x="108.70" y="226.20" font-size="8.2" fill="#1a1a1a" text-anchor="middle" >Exon 1-5’</text>
<rect x="213.20" y="359.85" width="5.38" height="0.85" fill="#1d2f6c"/>
<rect x="222.76" y="359.85" width="5.38" height="0.85" fill="#e5346f"/>
<rect x="222.76" y="358.16" width="5.38" height="2.30" fill="#5ebf95"/>
<rect x="232.32" y="359.85" width="5.38" height="0.85" fill="#e5346f"/>
<rect x="232.32" y="358.16" width="5.38" height="2.30" fill="#5ebf95"/>
<rect x="237.10" y="359.85" width="5.38" height="0.85" fill="#e5346f"/>
<rect x="237.10" y="355.61" width="5.38" height="4.84" fill="#5ebf95"/>
<rect x="241.88" y="359.85" width="5.38" height="0.85" fill="#e5346f"/>
<rect x="241.88" y="355.61" width="5.38" height="4.84" fill="#5ebf95"/>
<rect x="246.66" y="359.85" width="5.38" height="0.85" fill="#e5346f"/>
<rect x="246.66" y="359.00" width="5.38" height="1.45" fill="#5ebf95"/>
<rect x="251.44" y="359.85" width="5.38" height="0.85" fill="#e5346f"/>
<rect x="251.44" y="357.31" width="5.38" height="3.14" fill="#5ebf95"/>
<rect x="256.22" y="359.00" width="5.38" height="1.70" fill="#5ebf95"/>
<rect x="261.00" y="359.85" width="5.38" height="0.85" fill="#5ebf95"/>
<rect x="270.56" y="359.85" width="5.38" height="0.85" fill="#5ebf95"/>
<rect x="275.34" y="359.85" width="5.38" height="0.85" fill="#5ebf95"/>
<rect x="280.12" y="347.13" width="5.38" height="13.57" fill="#5ebf95"/>
<rect x="284.90" y="343.74" width="5.38" height="16.96" fill="#4b6fc0"/>
<rect x="284.90" y="305.58" width="5.38" height="38.76" fill="#5ebf95"/>
<rect x="289.68" y="358.16" width="5.38" height="2.54" fill="#e5346f"/>
<rect x="289.68" y="317.45" width="5.38" height="41.30" fill="#4b6fc0"/>
<rect x="289.68" y="241.13" width="5.38" height="76.92" fill="#5ebf95"/>
<rect x="294.46" y="342.89" width="5.38" height="17.81" fill="#4b6fc0"/>
<rect x="294.46" y="292.01" width="5.38" height="51.48" fill="#5ebf95"/>
<rect x="299.24" y="356.46" width="5.38" height="4.24" fill="#4b6fc0"/>
<rect x="299.24" y="343.74" width="5.38" height="13.32" fill="#5ebf95"/>
<text x="188.90" y="363.70" font-size="8.6" fill="#4d4d4d" text-anchor="end" >0</text>
<line x1="193.00" y1="360.70" x2="197.60" y2="360.70" stroke="#444444" stroke-width="1.0"/>
<text x="188.90" y="321.30" font-size="8.6" fill="#4d4d4d" text-anchor="end" >50</text>
<line x1="193.00" y1="318.30" x2="197.60" y2="318.30" stroke="#444444" stroke-width="1.0"/>
<text x="188.90" y="278.90" font-size="8.6" fill="#4d4d4d" text-anchor="end" >100</text>
<line x1="193.00" y1="275.90" x2="197.60" y2="275.90" stroke="#444444" stroke-width="1.0"/>
<line x1="208.48" y1="367.40" x2="208.48" y2="371.80" stroke="#444444" stroke-width="1.0"/>
<text x="208.48" y="382.20" font-size="8.3" fill="#4d4d4d" text-anchor="middle" >−4</text>
<line x1="229.36" y1="367.40" x2="229.36" y2="371.80" stroke="#444444" stroke-width="1.0"/>
<text x="229.36" y="382.20" font-size="8.3" fill="#4d4d4d" text-anchor="middle" >−3</text>
<line x1="250.24" y1="367.40" x2="250.24" y2="371.80" stroke="#444444" stroke-width="1.0"/>
<text x="250.24" y="382.20" font-size="8.3" fill="#4d4d4d" text-anchor="middle" >−2</text>
<line x1="271.12" y1="367.40" x2="271.12" y2="371.80" stroke="#444444" stroke-width="1.0"/>
<text x="271.12" y="382.20" font-size="8.3" fill="#4d4d4d" text-anchor="middle" >−1</text>
<line x1="292.00" y1="367.40" x2="292.00" y2="371.80" stroke="#444444" stroke-width="1.0"/>
<text x="292.00" y="382.20" font-size="8.3" fill="#4d4d4d" text-anchor="middle" >0</text>
<line x1="312.88" y1="367.40" x2="312.88" y2="371.80" stroke="#444444" stroke-width="1.0"/>
<text x="312.88" y="382.20" font-size="8.3" fill="#4d4d4d" text-anchor="middle" >1</text>
<text x="268.30" y="226.20" font-size="8.2" fill="#1a1a1a" text-anchor="middle" >Exon 1-mid</text>
<rect x="369.90" y="358.28" width="5.04" height="2.42" fill="#5ebf95"/>
<rect x="374.34" y="359.08" width="5.04" height="1.62" fill="#e5346f"/>
<rect x="374.34" y="358.76" width="5.04" height="0.92" fill="#5ebf95"/>
<rect x="378.78" y="359.08" width="5.04" height="1.62" fill="#f5a23e"/>
<rect x="378.78" y="358.11" width="5.04" height="1.57" fill="#5ebf95"/>
<rect x="383.22" y="352.22" width="5.04" height="8.48" fill="#5ebf95"/>
<rect x="387.66" y="358.11" width="5.04" height="2.59" fill="#5ebf95"/>
<rect x="392.10" y="359.08" width="5.04" height="1.62" fill="#f5a23e"/>
<rect x="392.10" y="353.43" width="5.04" height="6.26" fill="#5ebf95"/>
<rect x="396.54" y="359.89" width="5.04" height="0.81" fill="#e5346f"/>
<rect x="396.54" y="359.08" width="5.04" height="1.41" fill="#8e3f98"/>
<rect x="396.54" y="355.04" width="5.04" height="4.64" fill="#5ebf95"/>
<rect x="400.98" y="359.08" width="5.04" height="1.62" fill="#f5a23e"/>
<rect x="400.98" y="351.81" width="5.04" height="7.87" fill="#5ebf95"/>
<rect x="405.42" y="358.28" width="5.04" height="2.42" fill="#5ebf95"/>
<rect x="409.86" y="359.89" width="5.04" height="0.81" fill="#5ebf95"/>
<rect x="414.30" y="359.89" width="5.04" height="0.81" fill="#5ebf95"/>
<rect x="418.74" y="359.89" width="5.04" height="0.81" fill="#5ebf95"/>
<rect x="427.62" y="358.28" width="5.04" height="2.42" fill="#5ebf95"/>
<rect x="432.06" y="354.24" width="5.04" height="6.46" fill="#5ebf95"/>
<rect x="436.50" y="359.08" width="5.04" height="1.62" fill="#8ccbec"/>
<rect x="436.50" y="356.66" width="5.04" height="3.02" fill="#5ebf95"/>
<rect x="440.94" y="346.16" width="5.04" height="14.54" fill="#4b6fc0"/>
<rect x="440.94" y="344.94" width="5.04" height="1.81" fill="#8ccbec"/>
<rect x="440.94" y="342.52" width="5.04" height="3.02" fill="#1d2f6c"/>
<rect x="440.94" y="309.80" width="5.04" height="33.32" fill="#5ebf95"/>
<rect x="445.38" y="322.72" width="5.04" height="37.98" fill="#4b6fc0"/>
<rect x="445.38" y="312.22" width="5.04" height="11.10" fill="#8ccbec"/>
<rect x="445.38" y="303.33" width="5.04" height="9.49" fill="#1d2f6c"/>
<rect x="445.38" y="241.12" width="5.04" height="62.82" fill="#5ebf95"/>
<rect x="449.82" y="351.00" width="5.04" height="9.70" fill="#4b6fc0"/>
<rect x="449.82" y="349.79" width="5.04" height="1.81" fill="#8ccbec"/>
<rect x="449.82" y="347.37" width="5.04" height="3.02" fill="#1d2f6c"/>
<rect x="449.82" y="323.53" width="5.04" height="24.44" fill="#5ebf95"/>
<rect x="454.26" y="358.28" width="5.04" height="2.42" fill="#4b6fc0"/>
<rect x="454.26" y="355.85" width="5.04" height="3.02" fill="#8ccbec"/>
<text x="344.60" y="363.70" font-size="8.6" fill="#4d4d4d" text-anchor="end" >0</text>
<line x1="348.70" y1="360.70" x2="353.30" y2="360.70" stroke="#444444" stroke-width="1.0"/>
<text x="344.60" y="323.30" font-size="8.6" fill="#4d4d4d" text-anchor="end" >50</text>
<line x1="348.70" y1="320.30" x2="353.30" y2="320.30" stroke="#444444" stroke-width="1.0"/>
<text x="344.60" y="282.90" font-size="8.6" fill="#4d4d4d" text-anchor="end" >100</text>
<line x1="348.70" y1="279.90" x2="353.30" y2="279.90" stroke="#444444" stroke-width="1.0"/>
<text x="344.60" y="242.50" font-size="8.6" fill="#4d4d4d" text-anchor="end" >150</text>
<line x1="348.70" y1="239.50" x2="353.30" y2="239.50" stroke="#444444" stroke-width="1.0"/>
<line x1="363.88" y1="367.40" x2="363.88" y2="371.80" stroke="#444444" stroke-width="1.0"/>
<text x="363.88" y="382.20" font-size="8.3" fill="#4d4d4d" text-anchor="middle" >−4</text>
<line x1="384.76" y1="367.40" x2="384.76" y2="371.80" stroke="#444444" stroke-width="1.0"/>
<text x="384.76" y="382.20" font-size="8.3" fill="#4d4d4d" text-anchor="middle" >−3</text>
<line x1="405.64" y1="367.40" x2="405.64" y2="371.80" stroke="#444444" stroke-width="1.0"/>
<text x="405.64" y="382.20" font-size="8.3" fill="#4d4d4d" text-anchor="middle" >−2</text>
<line x1="426.52" y1="367.40" x2="426.52" y2="371.80" stroke="#444444" stroke-width="1.0"/>
<text x="426.52" y="382.20" font-size="8.3" fill="#4d4d4d" text-anchor="middle" >−1</text>
<line x1="447.40" y1="367.40" x2="447.40" y2="371.80" stroke="#444444" stroke-width="1.0"/>
<text x="447.40" y="382.20" font-size="8.3" fill="#4d4d4d" text-anchor="middle" >0</text>
<line x1="468.28" y1="367.40" x2="468.28" y2="371.80" stroke="#444444" stroke-width="1.0"/>
<text x="468.28" y="382.20" font-size="8.3" fill="#4d4d4d" text-anchor="middle" >1</text>
<text x="420.20" y="226.20" font-size="8.2" fill="#1a1a1a" text-anchor="middle" >Exon 1-3’</text>
<rect x="583.10" y="356.70" width="1.30" height="4.00" fill="#8ccbec"/>
<rect x="585.00" y="358.70" width="1.30" height="2.00" fill="#8ccbec"/>
<rect x="586.00" y="353.70" width="1.40" height="7.00" fill="#8ccbec"/>
<rect x="590.40" y="343.90" width="2.20" height="16.80" fill="#8ccbec"/>
<rect x="592.00" y="309.50" width="2.20" height="51.20" fill="#8ccbec"/>
<rect x="593.60" y="284.70" width="1.70" height="76.00" fill="#8ccbec"/>
<rect x="594.70" y="309.50" width="1.70" height="51.20" fill="#8ccbec"/>
<rect x="595.80" y="244.70" width="1.70" height="116.00" fill="#8ccbec"/>
<rect x="596.90" y="249.50" width="1.70" height="111.20" fill="#8ccbec"/>
<rect x="598.00" y="242.70" width="1.50" height="118.00" fill="#8ccbec"/>
<rect x="598.90" y="240.70" width="1.50" height="120.00" fill="#8ccbec"/>
<rect x="599.80" y="287.10" width="1.20" height="73.60" fill="#8ccbec"/>
<rect x="600.40" y="304.90" width="2.00" height="55.80" fill="#8ccbec"/>
<rect x="601.80" y="309.50" width="1.90" height="51.20" fill="#8ccbec"/>
<rect x="603.10" y="329.30" width="1.70" height="31.40" fill="#8ccbec"/>
<rect x="604.20" y="340.70" width="1.70" height="20.00" fill="#8ccbec"/>
<rect x="605.30" y="351.50" width="2.20" height="9.20" fill="#8ccbec"/>
<rect x="606.90" y="357.10" width="1.90" height="3.60" fill="#8ccbec"/>
<text x="494.70" y="363.70" font-size="8.6" fill="#4d4d4d" text-anchor="end" >0</text>
<line x1="498.80" y1="360.70" x2="503.40" y2="360.70" stroke="#444444" stroke-width="1.0"/>
<text x="494.70" y="323.70" font-size="8.6" fill="#4d4d4d" text-anchor="end" >20</text>
<line x1="498.80" y1="320.70" x2="503.40" y2="320.70" stroke="#444444" stroke-width="1.0"/>
<text x="494.70" y="283.70" font-size="8.6" fill="#4d4d4d" text-anchor="end" >40</text>
<line x1="498.80" y1="280.70" x2="503.40" y2="280.70" stroke="#444444" stroke-width="1.0"/>
<text x="494.70" y="243.70" font-size="8.6" fill="#4d4d4d" text-anchor="end" >60</text>
<line x1="498.80" y1="240.70" x2="503.40" y2="240.70" stroke="#444444" stroke-width="1.0"/>
<line x1="514.48" y1="367.40" x2="514.48" y2="371.80" stroke="#444444" stroke-width="1.0"/>
<text x="514.48" y="382.20" font-size="8.3" fill="#4d4d4d" text-anchor="middle" >−4</text>
<line x1="535.36" y1="367.40" x2="535.36" y2="371.80" stroke="#444444" stroke-width="1.0"/>
<text x="535.36" y="382.20" font-size="8.3" fill="#4d4d4d" text-anchor="middle" >−3</text>
<line x1="556.24" y1="367.40" x2="556.24" y2="371.80" stroke="#444444" stroke-width="1.0"/>
<text x="556.24" y="382.20" font-size="8.3" fill="#4d4d4d" text-anchor="middle" >−2</text>
<line x1="577.12" y1="367.40" x2="577.12" y2="371.80" stroke="#444444" stroke-width="1.0"/>
<text x="577.12" y="382.20" font-size="8.3" fill="#4d4d4d" text-anchor="middle" >−1</text>
<line x1="598.00" y1="367.40" x2="598.00" y2="371.80" stroke="#444444" stroke-width="1.0"/>
<text x="598.00" y="382.20" font-size="8.3" fill="#4d4d4d" text-anchor="middle" >0</text>
<line x1="618.88" y1="367.40" x2="618.88" y2="371.80" stroke="#444444" stroke-width="1.0"/>
<text x="618.88" y="382.20" font-size="8.3" fill="#4d4d4d" text-anchor="middle" >1</text>
<text x="566.70" y="226.20" font-size="8.2" fill="#1a1a1a" text-anchor="middle" >Intron 1</text>
<rect x="61.40" y="539.98" width="4.89" height="0.72" fill="#1d2f6c"/>
<rect x="65.69" y="539.80" width="4.89" height="0.90" fill="#f5a23e"/>
<rect x="65.69" y="538.01" width="4.89" height="2.40" fill="#5ebf95"/>
<rect x="69.98" y="538.90" width="4.89" height="1.80" fill="#e5346f"/>
<rect x="69.98" y="531.72" width="4.89" height="7.78" fill="#5ebf95"/>
<rect x="74.27" y="537.11" width="4.89" height="3.59" fill="#e5346f"/>
<rect x="74.27" y="536.21" width="4.89" height="1.50" fill="#f5a23e"/>
<rect x="74.27" y="529.92" width="4.89" height="6.89" fill="#5ebf95"/>
<rect x="78.56" y="538.01" width="4.89" height="2.69" fill="#f5a23e"/>
<rect x="78.56" y="537.11" width="4.89" height="1.50" fill="#1d2f6c"/>
<rect x="78.56" y="529.03" width="4.89" height="8.68" fill="#5ebf95"/>
<rect x="82.85" y="538.01" width="4.89" height="2.69" fill="#e5346f"/>
<rect x="82.85" y="537.11" width="4.89" height="1.50" fill="#1d2f6c"/>
<rect x="82.85" y="531.72" width="4.89" height="5.99" fill="#5ebf95"/>
<rect x="87.14" y="538.90" width="4.89" height="1.80" fill="#e5346f"/>
<rect x="87.14" y="538.01" width="4.89" height="1.50" fill="#f5a23e"/>
<rect x="87.14" y="529.03" width="4.89" height="9.58" fill="#5ebf95"/>
<rect x="91.43" y="536.66" width="4.89" height="4.04" fill="#5ebf95"/>
<rect x="95.72" y="537.56" width="4.89" height="3.14" fill="#5ebf95"/>
<rect x="100.01" y="539.35" width="4.89" height="1.35" fill="#f5a23e"/>
<rect x="100.01" y="537.56" width="4.89" height="2.40" fill="#1d2f6c"/>
<rect x="100.01" y="534.86" width="4.89" height="3.29" fill="#5ebf95"/>
<rect x="104.30" y="539.26" width="4.89" height="1.44" fill="#5ebf95"/>
<rect x="108.59" y="540.16" width="4.89" height="0.54" fill="#e5346f"/>
<rect x="108.59" y="538.72" width="4.89" height="2.04" fill="#8ccbec"/>
<rect x="108.59" y="535.49" width="4.89" height="3.83" fill="#1d2f6c"/>
<rect x="108.59" y="531.90" width="4.89" height="4.19" fill="#5ebf95"/>
<rect x="112.88" y="539.80" width="4.89" height="0.90" fill="#8ccbec"/>
<rect x="112.88" y="537.11" width="4.89" height="3.29" fill="#5ebf95"/>
<rect x="117.17" y="539.35" width="4.89" height="1.35" fill="#4b6fc0"/>
<rect x="117.17" y="538.01" width="4.89" height="1.95" fill="#1d2f6c"/>
<rect x="117.17" y="529.39" width="4.89" height="9.22" fill="#5ebf95"/>
<rect x="121.46" y="539.26" width="4.89" height="1.44" fill="#4b6fc0"/>
<rect x="121.46" y="536.93" width="4.89" height="2.93" fill="#1d2f6c"/>
<rect x="121.46" y="531.99" width="4.89" height="5.54" fill="#5ebf95"/>
<rect x="125.75" y="536.21" width="4.89" height="4.49" fill="#4b6fc0"/>
<rect x="125.75" y="532.62" width="4.89" height="4.19" fill="#8ccbec"/>
<rect x="125.75" y="529.92" width="4.89" height="3.29" fill="#1d2f6c"/>
<rect x="125.75" y="510.17" width="4.89" height="20.36" fill="#5ebf95"/>
<rect x="130.04" y="525.43" width="4.89" height="15.27" fill="#4b6fc0"/>
<rect x="130.04" y="521.39" width="4.89" height="4.64" fill="#8ccbec"/>
<rect x="130.04" y="511.96" width="4.89" height="10.03" fill="#1d2f6c"/>
<rect x="130.04" y="458.08" width="4.89" height="54.48" fill="#5ebf95"/>
<rect x="134.33" y="507.47" width="4.89" height="33.23" fill="#4b6fc0"/>
<rect x="134.33" y="505.68" width="4.89" height="2.40" fill="#8ccbec"/>
<rect x="134.33" y="494.00" width="4.89" height="12.27" fill="#1d2f6c"/>
<rect x="134.33" y="421.27" width="4.89" height="73.34" fill="#5ebf95"/>
<rect x="138.62" y="523.64" width="4.89" height="17.06" fill="#4b6fc0"/>
<rect x="138.62" y="520.50" width="4.89" height="3.74" fill="#8ccbec"/>
<rect x="138.62" y="517.35" width="4.89" height="3.74" fill="#1d2f6c"/>
<rect x="138.62" y="500.29" width="4.89" height="17.66" fill="#5ebf95"/>
<rect x="142.91" y="539.08" width="4.89" height="1.62" fill="#5ebf95"/>
<text x="32.90" y="543.70" font-size="8.6" fill="#4d4d4d" text-anchor="end" >0</text>
<line x1="37.00" y1="540.70" x2="41.60" y2="540.70" stroke="#444444" stroke-width="1.0"/>
<text x="32.90" y="498.80" font-size="8.6" fill="#4d4d4d" text-anchor="end" >50</text>
<line x1="37.00" y1="495.80" x2="41.60" y2="495.80" stroke="#444444" stroke-width="1.0"/>
<text x="32.90" y="453.90" font-size="8.6" fill="#4d4d4d" text-anchor="end" >100</text>
<line x1="37.00" y1="450.90" x2="41.60" y2="450.90" stroke="#444444" stroke-width="1.0"/>
<line x1="52.88" y1="547.40" x2="52.88" y2="551.80" stroke="#444444" stroke-width="1.0"/>
<text x="52.88" y="562.20" font-size="8.3" fill="#4d4d4d" text-anchor="middle" >−4</text>
<line x1="73.76" y1="547.40" x2="73.76" y2="551.80" stroke="#444444" stroke-width="1.0"/>
<text x="73.76" y="562.20" font-size="8.3" fill="#4d4d4d" text-anchor="middle" >−3</text>
<line x1="94.64" y1="547.40" x2="94.64" y2="551.80" stroke="#444444" stroke-width="1.0"/>
<text x="94.64" y="562.20" font-size="8.3" fill="#4d4d4d" text-anchor="middle" >−2</text>
<line x1="115.52" y1="547.40" x2="115.52" y2="551.80" stroke="#444444" stroke-width="1.0"/>
<text x="115.52" y="562.20" font-size="8.3" fill="#4d4d4d" text-anchor="middle" >−1</text>
<line x1="136.40" y1="547.40" x2="136.40" y2="551.80" stroke="#444444" stroke-width="1.0"/>
<text x="136.40" y="562.20" font-size="8.3" fill="#4d4d4d" text-anchor="middle" >0</text>
<line x1="157.28" y1="547.40" x2="157.28" y2="551.80" stroke="#444444" stroke-width="1.0"/>
<text x="157.28" y="562.20" font-size="8.3" fill="#4d4d4d" text-anchor="middle" >1</text>
<text x="105.80" y="407.00" font-size="8.2" fill="#1a1a1a" text-anchor="middle" >Exon 2</text>
<rect x="230.50" y="538.05" width="4.13" height="2.65" fill="#e5346f"/>
<rect x="234.03" y="539.82" width="4.13" height="0.88" fill="#e5346f"/>
<rect x="234.03" y="538.93" width="4.13" height="1.48" fill="#5ebf95"/>
<rect x="237.56" y="539.82" width="4.13" height="0.88" fill="#e5346f"/>
<rect x="237.56" y="538.93" width="4.13" height="1.48" fill="#5ebf95"/>
<rect x="241.09" y="539.82" width="4.13" height="0.88" fill="#e5346f"/>
<rect x="241.09" y="538.93" width="4.13" height="1.48" fill="#f5a23e"/>
<rect x="241.09" y="535.40" width="4.13" height="4.14" fill="#5ebf95"/>
<rect x="244.62" y="539.82" width="4.13" height="0.88" fill="#e5346f"/>
<rect x="244.62" y="538.93" width="4.13" height="1.48" fill="#f5a23e"/>
<rect x="244.62" y="534.51" width="4.13" height="5.02" fill="#5ebf95"/>
<rect x="248.15" y="538.93" width="4.13" height="1.77" fill="#e5346f"/>
<rect x="248.15" y="533.63" width="4.13" height="5.90" fill="#5ebf95"/>
<rect x="251.68" y="539.82" width="4.13" height="0.88" fill="#e5346f"/>
<rect x="251.68" y="536.28" width="4.13" height="4.14" fill="#5ebf95"/>
<rect x="255.21" y="538.05" width="4.13" height="2.65" fill="#5ebf95"/>
<rect x="258.74" y="537.16" width="4.13" height="3.54" fill="#5ebf95"/>
<rect x="262.27" y="538.05" width="4.13" height="2.65" fill="#5ebf95"/>
<rect x="265.80" y="536.28" width="4.13" height="4.42" fill="#5ebf95"/>
<rect x="269.33" y="539.82" width="4.13" height="0.88" fill="#1d2f6c"/>
<rect x="272.86" y="539.82" width="4.13" height="0.88" fill="#e5346f"/>
<rect x="272.86" y="534.51" width="4.13" height="5.90" fill="#5ebf95"/>
<rect x="276.39" y="539.82" width="4.13" height="0.88" fill="#5ebf95"/>
<rect x="279.92" y="538.93" width="4.13" height="1.77" fill="#8ccbec"/>
<rect x="279.92" y="535.40" width="4.13" height="4.14" fill="#5ebf95"/>
<rect x="283.45" y="535.40" width="4.13" height="5.30" fill="#8ccbec"/>
<rect x="283.45" y="523.02" width="4.13" height="12.98" fill="#5ebf95"/>
<rect x="286.98" y="532.74" width="4.13" height="7.96" fill="#4b6fc0"/>
<rect x="286.98" y="529.21" width="4.13" height="4.14" fill="#8ccbec"/>
<rect x="286.98" y="523.02" width="4.13" height="6.79" fill="#1d2f6c"/>
<rect x="286.98" y="497.38" width="4.13" height="26.24" fill="#5ebf95"/>
<rect x="290.51" y="503.57" width="4.13" height="37.13" fill="#4b6fc0"/>
<rect x="290.51" y="478.82" width="4.13" height="25.35" fill="#8ccbec"/>
<rect x="290.51" y="469.10" width="4.13" height="10.32" fill="#1d2f6c"/>
<rect x="290.51" y="421.36" width="4.13" height="48.34" fill="#5ebf95"/>
<rect x="294.04" y="532.74" width="4.13" height="7.96" fill="#4b6fc0"/>
<rect x="294.04" y="521.25" width="4.13" height="12.09" fill="#8ccbec"/>
<rect x="294.04" y="519.48" width="4.13" height="2.37" fill="#1d2f6c"/>
<rect x="294.04" y="507.99" width="4.13" height="12.09" fill="#5ebf95"/>
<text x="188.90" y="543.70" font-size="8.6" fill="#4d4d4d" text-anchor="end" >0</text>
<line x1="193.00" y1="540.70" x2="197.60" y2="540.70" stroke="#444444" stroke-width="1.0"/>
<text x="188.90" y="499.50" font-size="8.6" fill="#4d4d4d" text-anchor="end" >50</text>
<line x1="193.00" y1="496.50" x2="197.60" y2="496.50" stroke="#444444" stroke-width="1.0"/>
<text x="188.90" y="455.30" font-size="8.6" fill="#4d4d4d" text-anchor="end" >100</text>
<line x1="193.00" y1="452.30" x2="197.60" y2="452.30" stroke="#444444" stroke-width="1.0"/>
<line x1="208.58" y1="547.40" x2="208.58" y2="551.80" stroke="#444444" stroke-width="1.0"/>
<text x="208.58" y="562.20" font-size="8.3" fill="#4d4d4d" text-anchor="middle" >−4</text>
<line x1="229.46" y1="547.40" x2="229.46" y2="551.80" stroke="#444444" stroke-width="1.0"/>
<text x="229.46" y="562.20" font-size="8.3" fill="#4d4d4d" text-anchor="middle" >−3</text>
<line x1="250.34" y1="547.40" x2="250.34" y2="551.80" stroke="#444444" stroke-width="1.0"/>
<text x="250.34" y="562.20" font-size="8.3" fill="#4d4d4d" text-anchor="middle" >−2</text>
<line x1="271.22" y1="547.40" x2="271.22" y2="551.80" stroke="#444444" stroke-width="1.0"/>
<text x="271.22" y="562.20" font-size="8.3" fill="#4d4d4d" text-anchor="middle" >−1</text>
<line x1="292.10" y1="547.40" x2="292.10" y2="551.80" stroke="#444444" stroke-width="1.0"/>
<text x="292.10" y="562.20" font-size="8.3" fill="#4d4d4d" text-anchor="middle" >0</text>
<line x1="312.98" y1="547.40" x2="312.98" y2="551.80" stroke="#444444" stroke-width="1.0"/>
<text x="312.98" y="562.20" font-size="8.3" fill="#4d4d4d" text-anchor="middle" >1</text>
<text x="264.10" y="407.00" font-size="8.2" fill="#1a1a1a" text-anchor="middle" >Exon 3-5’</text>
<rect x="388.30" y="540.01" width="4.00" height="0.69" fill="#e5346f"/>
<rect x="391.70" y="540.01" width="4.00" height="0.69" fill="#e5346f"/>
<rect x="395.10" y="540.01" width="4.00" height="0.69" fill="#e5346f"/>
<rect x="395.10" y="537.94" width="4.00" height="2.67" fill="#5ebf95"/>
<rect x="398.50" y="540.01" width="4.00" height="0.69" fill="#e5346f"/>
<rect x="398.50" y="539.32" width="4.00" height="1.29" fill="#5ebf95"/>
<rect x="412.10" y="540.01" width="4.00" height="0.69" fill="#e5346f"/>
<rect x="418.90" y="540.01" width="4.00" height="0.69" fill="#e5346f"/>
<rect x="422.30" y="540.01" width="4.00" height="0.69" fill="#e5346f"/>
<rect x="429.10" y="540.01" width="4.00" height="0.69" fill="#1d2f6c"/>
<rect x="432.50" y="540.01" width="4.00" height="0.69" fill="#5ebf95"/>
<rect x="435.90" y="540.01" width="4.00" height="0.69" fill="#4b6fc0"/>
<rect x="435.90" y="537.94" width="4.00" height="2.67" fill="#5ebf95"/>
<rect x="439.30" y="539.32" width="4.00" height="1.38" fill="#4b6fc0"/>
<rect x="439.30" y="537.60" width="4.00" height="2.33" fill="#8e3f98"/>
<rect x="439.30" y="536.91" width="4.00" height="1.29" fill="#d291c8"/>
<rect x="439.30" y="529.66" width="4.00" height="7.85" fill="#5ebf95"/>
<rect x="442.70" y="533.80" width="4.00" height="6.90" fill="#4b6fc0"/>
<rect x="442.70" y="530.35" width="4.00" height="4.05" fill="#8e3f98"/>
<rect x="442.70" y="513.79" width="4.00" height="17.16" fill="#d291c8"/>
<rect x="442.70" y="473.77" width="4.00" height="40.62" fill="#5ebf95"/>
<rect x="446.10" y="513.79" width="4.00" height="26.91" fill="#4b6fc0"/>
<rect x="446.10" y="482.05" width="4.00" height="32.34" fill="#d291c8"/>
<rect x="446.10" y="422.02" width="4.00" height="60.63" fill="#5ebf95"/>
<rect x="449.50" y="533.11" width="4.00" height="7.59" fill="#4b6fc0"/>
<rect x="449.50" y="512.41" width="4.00" height="21.30" fill="#d291c8"/>
<rect x="449.50" y="488.26" width="4.00" height="24.75" fill="#5ebf95"/>
<rect x="452.90" y="538.63" width="4.00" height="2.07" fill="#4b6fc0"/>
<text x="344.90" y="543.70" font-size="8.6" fill="#4d4d4d" text-anchor="end" >0</text>
<line x1="349.00" y1="540.70" x2="353.60" y2="540.70" stroke="#444444" stroke-width="1.0"/>
<text x="344.90" y="509.20" font-size="8.6" fill="#4d4d4d" text-anchor="end" >50</text>
<line x1="349.00" y1="506.20" x2="353.60" y2="506.20" stroke="#444444" stroke-width="1.0"/>
<text x="344.90" y="474.70" font-size="8.6" fill="#4d4d4d" text-anchor="end" >100</text>
<line x1="349.00" y1="471.70" x2="353.60" y2="471.70" stroke="#444444" stroke-width="1.0"/>
<text x="344.90" y="440.20" font-size="8.6" fill="#4d4d4d" text-anchor="end" >150</text>
<line x1="349.00" y1="437.20" x2="353.60" y2="437.20" stroke="#444444" stroke-width="1.0"/>
<line x1="363.88" y1="547.40" x2="363.88" y2="551.80" stroke="#444444" stroke-width="1.0"/>
<text x="363.88" y="562.20" font-size="8.3" fill="#4d4d4d" text-anchor="middle" >−4</text>
<line x1="384.76" y1="547.40" x2="384.76" y2="551.80" stroke="#444444" stroke-width="1.0"/>
<text x="384.76" y="562.20" font-size="8.3" fill="#4d4d4d" text-anchor="middle" >−3</text>
<line x1="405.64" y1="547.40" x2="405.64" y2="551.80" stroke="#444444" stroke-width="1.0"/>
<text x="405.64" y="562.20" font-size="8.3" fill="#4d4d4d" text-anchor="middle" >−2</text>
<line x1="426.52" y1="547.40" x2="426.52" y2="551.80" stroke="#444444" stroke-width="1.0"/>
<text x="426.52" y="562.20" font-size="8.3" fill="#4d4d4d" text-anchor="middle" >−1</text>
<line x1="447.40" y1="547.40" x2="447.40" y2="551.80" stroke="#444444" stroke-width="1.0"/>
<text x="447.40" y="562.20" font-size="8.3" fill="#4d4d4d" text-anchor="middle" >0</text>
<line x1="468.28" y1="547.40" x2="468.28" y2="551.80" stroke="#444444" stroke-width="1.0"/>
<text x="468.28" y="562.20" font-size="8.3" fill="#4d4d4d" text-anchor="middle" >1</text>
<text x="419.80" y="407.00" font-size="8.2" fill="#1a1a1a" text-anchor="middle" >Exon 3-3’</text>
<text transform="translate(12.4,388.5) rotate(-90)" font-size="10.65" fill="#1a1a1a" text-anchor="middle">SNVs</text>
<text x="340.50" y="575.70" font-size="10.65" fill="#1a1a1a" text-anchor="middle" >Function score</text>
<rect x="513.10" y="432.90" width="10.60" height="10.80" fill="#b4a394"/>
<text x="526.80" y="441.90" font-size="8.9" fill="#1a1a1a" text-anchor="start" >5' UTR</text>
<rect x="513.10" y="444.82" width="10.60" height="10.80" fill="#5ebf95"/>
<text x="526.80" y="453.82" font-size="8.9" fill="#1a1a1a" text-anchor="start" >Missense</text>
<rect x="513.10" y="456.75" width="10.60" height="10.80" fill="#d291c8"/>
<text x="526.80" y="465.75" font-size="8.9" fill="#1a1a1a" text-anchor="start" >3' UTR</text>
<rect x="513.10" y="468.67" width="10.60" height="10.80" fill="#8e3f98"/>
<text x="526.80" y="477.67" font-size="8.9" fill="#1a1a1a" text-anchor="start" >Stop lost</text>
<rect x="513.10" y="480.60" width="10.60" height="10.80" fill="#1d2f6c"/>
<text x="526.80" y="489.60" font-size="8.9" fill="#1a1a1a" text-anchor="start" >Splice region</text>
<rect x="513.10" y="492.52" width="10.60" height="10.80" fill="#8ccbec"/>
<text x="526.80" y="501.52" font-size="8.9" fill="#1a1a1a" text-anchor="start" >Intronic</text>
<rect x="513.10" y="504.45" width="10.60" height="10.80" fill="#4b6fc0"/>
<text x="526.80" y="513.45" font-size="8.9" fill="#1a1a1a" text-anchor="start" >Synonymous</text>
<rect x="513.10" y="516.38" width="10.60" height="10.80" fill="#f5a23e"/>
<text x="526.80" y="525.38" font-size="8.9" fill="#1a1a1a" text-anchor="start" >Canonical splice</text>
<rect x="513.10" y="528.30" width="10.60" height="10.80" fill="#e5346f"/>
<text x="526.80" y="537.30" font-size="8.9" fill="#1a1a1a" text-anchor="start" >Nonsense</text>
</svg>
</body></html>
